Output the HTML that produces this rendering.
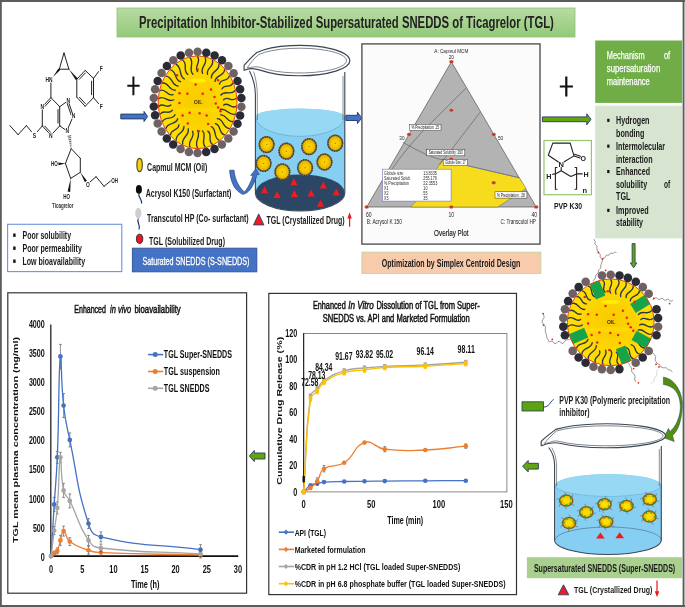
<!DOCTYPE html>
<html lang="en"><head><meta charset="utf-8"><title>Precipitation Inhibitor-Stabilized Supersaturated SNEDDS of Ticagrelor (TGL)</title>
<style>
html,body{margin:0;padding:0;background:#fff;}
svg{display:block;font-family:"Liberation Sans", sans-serif;}
text{white-space:pre;}
</style></head><body>
<svg width="685" height="607" viewBox="0 0 685 607">
<defs>
<linearGradient id="gTitle" x1="0" y1="0" x2="0" y2="1"><stop offset="0" stop-color="#b9dba5"/><stop offset="1" stop-color="#93c978"/></linearGradient>
<radialGradient id="gOil" cx="0.5" cy="0.5" r="0.5"><stop offset="0" stop-color="#f8ca00"/><stop offset="0.5" stop-color="#fcd300"/><stop offset="1" stop-color="#ffe000"/></radialGradient>
<radialGradient id="gSmall" cx="0.5" cy="0.5" r="0.5"><stop offset="0" stop-color="#ffd800"/><stop offset="0.65" stop-color="#f4c400"/><stop offset="1" stop-color="#c99a00"/></radialGradient>
</defs>
<rect x="0" y="0" width="685" height="607" fill="#ffffff"/>
<path d="M0,0 H685 V1.9 H0 Z M0,0 H1.8 V607 H0 Z M0,605 H685 V607 H0 Z M682.6,0 H684.5 V607 H682.6 Z" fill="#5c5c5c"/>
<rect x="117" y="8" width="458" height="29" fill="url(#gTitle)" stroke="#8dc372" stroke-width="0.8"/>
<text x="139.0" y="28.4" font-size="15.6" font-weight="bold" fill="#222" textLength="414.9" lengthAdjust="spacingAndGlyphs" >Precipitation Inhibitor-Stabilized Supersaturated SNEDDS of Ticagrelor (TGL)</text>
<g id="ticagrelor">
<line x1="64.0" y1="52.9" x2="59.3" y2="69.2" stroke="#222" stroke-width="1.0" stroke-linecap="round"/>
<line x1="64.0" y1="52.9" x2="68.9" y2="69.2" stroke="#222" stroke-width="1.0" stroke-linecap="round"/>
<line x1="59.3" y1="69.2" x2="68.9" y2="69.2" stroke="#222" stroke-width="1.0" stroke-linecap="round"/>
<polygon points="52.9,77.0 60.2,69.9 58.4,68.5" fill="#111"/>
<polygon points="68.9,69.2 75.8,80.0 77.8,78.4" fill="#111"/>
<line x1="76.8" y1="79.2" x2="85.2" y2="70.4" stroke="#222" stroke-width="1.0" stroke-linecap="round"/>
<line x1="85.2" y1="70.4" x2="93.5" y2="78.3" stroke="#222" stroke-width="1.0" stroke-linecap="round"/>
<line x1="93.5" y1="78.3" x2="93.5" y2="97.6" stroke="#222" stroke-width="1.0" stroke-linecap="round"/>
<line x1="93.5" y1="97.6" x2="85.2" y2="106.3" stroke="#222" stroke-width="1.0" stroke-linecap="round"/>
<line x1="85.2" y1="106.3" x2="76.8" y2="97.2" stroke="#222" stroke-width="1.0" stroke-linecap="round"/>
<line x1="76.8" y1="97.2" x2="76.8" y2="79.2" stroke="#222" stroke-width="1.0" stroke-linecap="round"/>
<line x1="79.4" y1="79.2" x2="85.3" y2="73.0" stroke="#222" stroke-width="1.0" stroke-linecap="round"/>
<line x1="91.6" y1="81.2" x2="91.6" y2="94.7" stroke="#222" stroke-width="1.0" stroke-linecap="round"/>
<line x1="85.3" y1="103.6" x2="79.5" y2="97.3" stroke="#222" stroke-width="1.0" stroke-linecap="round"/>
<line x1="93.5" y1="78.3" x2="98.6" y2="71.6" stroke="#222" stroke-width="1.0" stroke-linecap="round"/>
<line x1="93.5" y1="97.6" x2="98.6" y2="103.6" stroke="#222" stroke-width="1.0" stroke-linecap="round"/>
<rect x="99.3" y="65.7" width="3.8" height="5.7" fill="#fff"/>
<text x="99.7" y="71.0" font-size="6.8" font-weight="bold" fill="#222" textLength="3.0" lengthAdjust="spacingAndGlyphs" >F</text>
<rect x="99.3" y="103.5" width="3.8" height="5.7" fill="#fff"/>
<text x="99.7" y="108.8" font-size="6.8" font-weight="bold" fill="#222" textLength="3.0" lengthAdjust="spacingAndGlyphs" >F</text>
<line x1="50.9" y1="83.0" x2="50.9" y2="97.6" stroke="#222" stroke-width="1.0" stroke-linecap="round"/>
<line x1="50.9" y1="97.6" x2="42.3" y2="106.7" stroke="#222" stroke-width="1.0" stroke-linecap="round"/>
<line x1="42.3" y1="106.7" x2="42.3" y2="125.9" stroke="#222" stroke-width="1.0" stroke-linecap="round"/>
<line x1="42.3" y1="125.9" x2="50.9" y2="135.2" stroke="#222" stroke-width="1.0" stroke-linecap="round"/>
<line x1="50.9" y1="135.2" x2="59.7" y2="125.9" stroke="#222" stroke-width="1.0" stroke-linecap="round"/>
<line x1="59.7" y1="125.9" x2="59.7" y2="106.7" stroke="#222" stroke-width="1.0" stroke-linecap="round"/>
<line x1="59.7" y1="106.7" x2="50.9" y2="97.6" stroke="#222" stroke-width="1.0" stroke-linecap="round"/>
<line x1="50.8" y1="100.1" x2="44.8" y2="106.5" stroke="#222" stroke-width="1.0" stroke-linecap="round"/>
<line x1="44.8" y1="126.1" x2="50.9" y2="132.7" stroke="#222" stroke-width="1.0" stroke-linecap="round"/>
<line x1="58.0" y1="123.0" x2="58.0" y2="109.6" stroke="#222" stroke-width="1.0" stroke-linecap="round"/>
<line x1="59.7" y1="106.7" x2="68.1" y2="100.7" stroke="#222" stroke-width="1.0" stroke-linecap="round"/>
<line x1="68.1" y1="100.7" x2="73.3" y2="116.0" stroke="#222" stroke-width="1.0" stroke-linecap="round"/>
<line x1="73.3" y1="116.0" x2="66.9" y2="130.9" stroke="#222" stroke-width="1.0" stroke-linecap="round"/>
<line x1="66.9" y1="130.9" x2="59.7" y2="125.9" stroke="#222" stroke-width="1.0" stroke-linecap="round"/>
<line x1="67.0" y1="102.8" x2="71.2" y2="115.0" stroke="#222" stroke-width="1.0" stroke-linecap="round"/>
<line x1="42.3" y1="125.9" x2="37.2" y2="131.8" stroke="#222" stroke-width="1.0" stroke-linecap="round"/>
<line x1="31.6" y1="131.8" x2="26.4" y2="125.6" stroke="#222" stroke-width="1.0" stroke-linecap="round"/>
<line x1="26.4" y1="125.6" x2="18.1" y2="134.7" stroke="#222" stroke-width="1.0" stroke-linecap="round"/>
<line x1="18.1" y1="134.7" x2="9.9" y2="125.6" stroke="#222" stroke-width="1.0" stroke-linecap="round"/>
<rect x="45.1" y="76.4" width="7.8" height="5.7" fill="#fff"/>
<text x="45.5" y="81.7" font-size="6.8" font-weight="bold" fill="#222" textLength="7.0" lengthAdjust="spacingAndGlyphs" >HN</text>
<rect x="40.1" y="103.8" width="4.4" height="5.7" fill="#fff"/>
<text x="40.5" y="109.1" font-size="6.8" font-weight="bold" fill="#222" textLength="3.6" lengthAdjust="spacingAndGlyphs" >N</text>
<rect x="48.7" y="132.5" width="4.4" height="5.7" fill="#fff"/>
<text x="49.1" y="137.8" font-size="6.8" font-weight="bold" fill="#222" textLength="3.6" lengthAdjust="spacingAndGlyphs" >N</text>
<rect x="66.1" y="97.5" width="4.4" height="5.7" fill="#fff"/>
<text x="66.5" y="102.8" font-size="6.8" font-weight="bold" fill="#222" textLength="3.6" lengthAdjust="spacingAndGlyphs" >N</text>
<rect x="71.4" y="113.1" width="4.4" height="5.7" fill="#fff"/>
<text x="71.8" y="118.4" font-size="6.8" font-weight="bold" fill="#222" textLength="3.6" lengthAdjust="spacingAndGlyphs" >N</text>
<rect x="65.0" y="128.1" width="4.4" height="5.7" fill="#fff"/>
<text x="65.4" y="133.4" font-size="6.8" font-weight="bold" fill="#222" textLength="3.6" lengthAdjust="spacingAndGlyphs" >N</text>
<rect x="32.3" y="132.3" width="4.2" height="5.7" fill="#fff"/>
<text x="32.7" y="137.6" font-size="6.8" font-weight="bold" fill="#222" textLength="3.4" lengthAdjust="spacingAndGlyphs" >S</text>
<line x1="71.1" y1="146.9" x2="70.7" y2="146.9" stroke="#111" stroke-width="0.7" stroke-linecap="round"/>
<line x1="71.1" y1="145.0" x2="70.3" y2="145.1" stroke="#111" stroke-width="0.7" stroke-linecap="round"/>
<line x1="71.0" y1="143.2" x2="69.8" y2="143.3" stroke="#111" stroke-width="0.7" stroke-linecap="round"/>
<line x1="71.0" y1="141.3" x2="69.4" y2="141.6" stroke="#111" stroke-width="0.7" stroke-linecap="round"/>
<line x1="70.9" y1="139.5" x2="68.9" y2="139.8" stroke="#111" stroke-width="0.7" stroke-linecap="round"/>
<line x1="70.8" y1="137.6" x2="68.5" y2="138.0" stroke="#111" stroke-width="0.7" stroke-linecap="round"/>
<line x1="70.8" y1="135.8" x2="68.0" y2="136.2" stroke="#111" stroke-width="0.7" stroke-linecap="round"/>
<line x1="71.2" y1="148.7" x2="80.3" y2="158.3" stroke="#222" stroke-width="1.0" stroke-linecap="round"/>
<line x1="80.3" y1="158.3" x2="80.3" y2="172.3" stroke="#222" stroke-width="1.0" stroke-linecap="round"/>
<line x1="80.3" y1="172.3" x2="70.7" y2="178.4" stroke="#222" stroke-width="1.0" stroke-linecap="round"/>
<line x1="70.7" y1="178.4" x2="65.4" y2="163.5" stroke="#222" stroke-width="1.0" stroke-linecap="round"/>
<line x1="65.4" y1="163.5" x2="71.2" y2="148.7" stroke="#222" stroke-width="1.0" stroke-linecap="round"/>
<polygon points="65.4,163.5 58.2,162.6 58.4,165.2" fill="#111"/>
<polygon points="70.7,178.4 67.6,191.6 70.2,192.0" fill="#111"/>
<polygon points="80.3,172.3 84.9,182.3 87.1,180.9" fill="#111"/>
<rect x="50.6" y="161.0" width="7.6" height="5.7" fill="#fff"/>
<text x="51.0" y="166.3" font-size="6.8" font-weight="bold" fill="#222" textLength="6.8" lengthAdjust="spacingAndGlyphs" >HO</text>
<rect x="62.9" y="193.3" width="7.6" height="5.7" fill="#fff"/>
<text x="63.3" y="198.6" font-size="6.8" font-weight="bold" fill="#222" textLength="6.8" lengthAdjust="spacingAndGlyphs" >HO</text>
<rect x="85.5" y="181.4" width="4.6" height="5.7" fill="#fff"/>
<text x="85.9" y="186.7" font-size="6.8" font-weight="bold" fill="#222" textLength="3.8" lengthAdjust="spacingAndGlyphs" >O</text>
<line x1="90.1" y1="181.9" x2="96.1" y2="176.7" stroke="#222" stroke-width="1.0" stroke-linecap="round"/>
<line x1="96.1" y1="176.7" x2="104.0" y2="186.3" stroke="#222" stroke-width="1.0" stroke-linecap="round"/>
<line x1="104.0" y1="186.3" x2="110.6" y2="181.0" stroke="#222" stroke-width="1.0" stroke-linecap="round"/>
<rect x="110.8" y="177.3" width="7.6" height="5.7" fill="#fff"/>
<text x="111.2" y="182.6" font-size="6.8" font-weight="bold" fill="#222" textLength="6.8" lengthAdjust="spacingAndGlyphs" >OH</text>
<text x="52.0" y="208.2" font-size="6.8" font-weight="bold" fill="#333" textLength="21.6" lengthAdjust="spacingAndGlyphs" >Ticagrelor</text>
</g>
<rect x="7.6" y="224.3" width="114.2" height="47.3" fill="#fff" stroke="#6f93dc" stroke-width="1.1"/>
<rect x="13.2" y="233.5" width="2.4" height="3.4" fill="#111"/>
<text x="22.5" y="238.9" font-size="10.3" font-weight="bold" fill="#1a1a1a" textLength="48.6" lengthAdjust="spacingAndGlyphs" >Poor solubility</text>
<rect x="13.2" y="246.5" width="2.4" height="3.4" fill="#111"/>
<text x="22.5" y="251.9" font-size="10.3" font-weight="bold" fill="#1a1a1a" textLength="59.3" lengthAdjust="spacingAndGlyphs" >Poor permeability</text>
<rect x="13.2" y="259.5" width="2.4" height="3.4" fill="#111"/>
<text x="22.5" y="264.9" font-size="10.3" font-weight="bold" fill="#1a1a1a" textLength="62.6" lengthAdjust="spacingAndGlyphs" >Low bioavailability</text>
<g>
<ellipse cx="197.6" cy="102.3" rx="39.4" ry="46.4" fill="url(#gOil)"/>
<ellipse cx="197.6" cy="80.5" rx="8.7" ry="2.1" fill="#fff200" opacity="0.9"/>
<ellipse cx="197.6" cy="110.2" rx="21.7" ry="2.8" fill="#ffe000" opacity="0.55"/>
<path d="M197.6,56.8 C201.5,62.0 193.7,66.4 197.6,71.5" fill="none" stroke="#2f3348" stroke-width="1.35" stroke-linecap="round"/>
<path d="M205.2,57.7 C208.1,64.0 199.7,67.1 202.6,73.3" fill="none" stroke="#2f3348" stroke-width="1.35" stroke-linecap="round"/>
<path d="M212.5,60.4 C214.4,66.8 205.7,68.0 207.5,74.4" fill="none" stroke="#2f3348" stroke-width="1.35" stroke-linecap="round"/>
<path d="M219.0,64.5 C219.6,71.3 210.8,71.0 211.4,77.9" fill="none" stroke="#2f3348" stroke-width="1.35" stroke-linecap="round"/>
<path d="M224.6,69.8 C224.0,76.6 215.6,74.6 215.0,81.4" fill="none" stroke="#2f3348" stroke-width="1.35" stroke-linecap="round"/>
<path d="M229.2,76.2 C228.0,82.2 220.6,78.2 219.5,84.2" fill="none" stroke="#2f3348" stroke-width="1.35" stroke-linecap="round"/>
<path d="M232.6,83.2 C230.6,88.7 224.1,83.4 222.0,88.9" fill="none" stroke="#2f3348" stroke-width="1.35" stroke-linecap="round"/>
<path d="M234.9,90.6 C231.0,95.9 224.8,89.7 220.9,95.0" fill="none" stroke="#2f3348" stroke-width="1.35" stroke-linecap="round"/>
<path d="M236.1,98.4 C232.0,102.7 227.6,95.3 223.6,99.7" fill="none" stroke="#2f3348" stroke-width="1.35" stroke-linecap="round"/>
<path d="M236.1,106.3 C231.4,109.7 228.3,101.5 223.7,105.0" fill="none" stroke="#2f3348" stroke-width="1.35" stroke-linecap="round"/>
<path d="M234.9,114.1 C228.8,116.2 226.4,107.3 220.3,109.5" fill="none" stroke="#2f3348" stroke-width="1.35" stroke-linecap="round"/>
<path d="M232.6,121.5 C226.7,122.7 226.4,113.7 220.6,114.9" fill="none" stroke="#2f3348" stroke-width="1.35" stroke-linecap="round"/>
<path d="M229.2,128.5 C222.8,128.2 223.7,118.9 217.3,118.7" fill="none" stroke="#2f3348" stroke-width="1.35" stroke-linecap="round"/>
<path d="M224.6,134.8 C218.5,133.7 221.3,124.8 215.3,123.7" fill="none" stroke="#2f3348" stroke-width="1.35" stroke-linecap="round"/>
<path d="M219.0,140.2 C213.0,137.6 217.2,129.2 211.3,126.6" fill="none" stroke="#2f3348" stroke-width="1.35" stroke-linecap="round"/>
<path d="M212.4,144.3 C207.2,141.2 213.0,134.2 207.8,131.1" fill="none" stroke="#2f3348" stroke-width="1.35" stroke-linecap="round"/>
<path d="M205.2,146.9 C200.4,142.1 207.2,135.8 202.5,130.9" fill="none" stroke="#2f3348" stroke-width="1.35" stroke-linecap="round"/>
<path d="M197.5,147.8 C193.6,141.7 201.4,136.6 197.6,130.5" fill="none" stroke="#2f3348" stroke-width="1.35" stroke-linecap="round"/>
<path d="M190.0,146.9 C187.1,140.7 195.5,137.6 192.6,131.4" fill="none" stroke="#2f3348" stroke-width="1.35" stroke-linecap="round"/>
<path d="M182.7,144.2 C181.0,137.3 189.9,135.7 188.2,128.8" fill="none" stroke="#2f3348" stroke-width="1.35" stroke-linecap="round"/>
<path d="M176.2,140.1 C175.6,133.2 184.5,133.4 183.9,126.5" fill="none" stroke="#2f3348" stroke-width="1.35" stroke-linecap="round"/>
<path d="M170.6,134.8 C170.7,128.6 178.8,131.0 178.9,124.8" fill="none" stroke="#2f3348" stroke-width="1.35" stroke-linecap="round"/>
<path d="M166.0,128.4 C167.8,121.9 175.8,125.4 177.7,118.8" fill="none" stroke="#2f3348" stroke-width="1.35" stroke-linecap="round"/>
<path d="M162.6,121.4 C165.3,115.5 172.3,120.6 175.0,114.7" fill="none" stroke="#2f3348" stroke-width="1.35" stroke-linecap="round"/>
<path d="M160.3,114.0 C163.6,108.9 169.2,115.3 172.5,110.2" fill="none" stroke="#2f3348" stroke-width="1.35" stroke-linecap="round"/>
<path d="M159.1,106.2 C162.9,101.9 167.1,109.3 170.8,105.0" fill="none" stroke="#2f3348" stroke-width="1.35" stroke-linecap="round"/>
<path d="M159.1,98.3 C164.6,95.0 168.3,103.2 173.7,99.8" fill="none" stroke="#2f3348" stroke-width="1.35" stroke-linecap="round"/>
<path d="M160.3,90.5 C165.8,88.2 167.6,96.9 173.1,94.6" fill="none" stroke="#2f3348" stroke-width="1.35" stroke-linecap="round"/>
<path d="M162.6,83.1 C168.7,82.0 169.3,91.2 175.4,90.1" fill="none" stroke="#2f3348" stroke-width="1.35" stroke-linecap="round"/>
<path d="M166.0,76.1 C172.5,76.4 171.6,85.7 178.0,86.0" fill="none" stroke="#2f3348" stroke-width="1.35" stroke-linecap="round"/>
<path d="M170.6,69.8 C176.9,71.2 174.2,80.2 180.5,81.6" fill="none" stroke="#2f3348" stroke-width="1.35" stroke-linecap="round"/>
<path d="M176.2,64.4 C182.3,67.4 178.3,76.0 184.4,79.0" fill="none" stroke="#2f3348" stroke-width="1.35" stroke-linecap="round"/>
<path d="M182.8,60.3 C188.1,63.8 182.4,71.0 187.8,74.4" fill="none" stroke="#2f3348" stroke-width="1.35" stroke-linecap="round"/>
<path d="M190.0,57.7 C194.8,62.8 188.0,69.3 192.9,74.3" fill="none" stroke="#2f3348" stroke-width="1.35" stroke-linecap="round"/>
<ellipse cx="197.6" cy="102.3" rx="39.4" ry="46.4" fill="none" stroke="#e43a1a" stroke-width="0.95"/>
<circle cx="197.6" cy="51.7" r="4.25" fill="#6f6162"/>
<circle cx="206.3" cy="52.7" r="4.25" fill="#2b2b36"/>
<circle cx="214.6" cy="55.6" r="4.25" fill="#2b2b36"/>
<circle cx="222.0" cy="60.2" r="4.25" fill="#2b2b36"/>
<circle cx="228.4" cy="66.1" r="4.25" fill="#6f6162"/>
<circle cx="233.6" cy="73.2" r="4.25" fill="#6f6162"/>
<circle cx="237.5" cy="81.0" r="4.25" fill="#2b2b36"/>
<circle cx="240.1" cy="89.3" r="4.25" fill="#2b2b36"/>
<circle cx="241.4" cy="98.0" r="4.25" fill="#2b2b36"/>
<circle cx="241.4" cy="106.7" r="4.25" fill="#6f6162"/>
<circle cx="240.1" cy="115.4" r="4.25" fill="#2b2b36"/>
<circle cx="237.5" cy="123.7" r="4.25" fill="#2b2b36"/>
<circle cx="233.6" cy="131.5" r="4.25" fill="#6f6162"/>
<circle cx="228.3" cy="138.5" r="4.25" fill="#6f6162"/>
<circle cx="221.9" cy="144.4" r="4.25" fill="#6f6162"/>
<circle cx="214.5" cy="149.0" r="4.25" fill="#2b2b36"/>
<circle cx="206.2" cy="151.9" r="4.25" fill="#2b2b36"/>
<circle cx="197.5" cy="152.9" r="4.25" fill="#6f6162"/>
<circle cx="188.9" cy="151.9" r="4.25" fill="#6f6162"/>
<circle cx="180.6" cy="149.0" r="4.25" fill="#6f6162"/>
<circle cx="173.2" cy="144.4" r="4.25" fill="#2b2b36"/>
<circle cx="166.8" cy="138.5" r="4.25" fill="#2b2b36"/>
<circle cx="161.6" cy="131.4" r="4.25" fill="#6f6162"/>
<circle cx="157.7" cy="123.6" r="4.25" fill="#6f6162"/>
<circle cx="155.1" cy="115.3" r="4.25" fill="#2b2b36"/>
<circle cx="153.8" cy="106.6" r="4.25" fill="#2b2b36"/>
<circle cx="153.8" cy="97.9" r="4.25" fill="#6f6162"/>
<circle cx="155.1" cy="89.2" r="4.25" fill="#6f6162"/>
<circle cx="157.7" cy="80.9" r="4.25" fill="#2b2b36"/>
<circle cx="161.6" cy="73.1" r="4.25" fill="#6f6162"/>
<circle cx="166.9" cy="66.1" r="4.25" fill="#2b2b36"/>
<circle cx="173.3" cy="60.2" r="4.25" fill="#6f6162"/>
<circle cx="180.7" cy="55.6" r="4.25" fill="#2b2b36"/>
<circle cx="189.0" cy="52.7" r="4.25" fill="#6f6162"/>
<circle cx="197.6" cy="69.6" r="1.25" fill="#e8241a"/>
<circle cx="177.1" cy="75.2" r="1.25" fill="#e8241a"/>
<circle cx="218.1" cy="80.3" r="1.25" fill="#e8241a"/>
<circle cx="195.6" cy="84.4" r="1.25" fill="#e8241a"/>
<circle cx="179.5" cy="93.3" r="1.25" fill="#e8241a"/>
<circle cx="187.4" cy="93.7" r="1.25" fill="#e8241a"/>
<circle cx="202.7" cy="93.7" r="1.25" fill="#e8241a"/>
<circle cx="211.0" cy="89.5" r="1.25" fill="#e8241a"/>
<circle cx="214.5" cy="97.0" r="1.25" fill="#e8241a"/>
<circle cx="179.5" cy="103.0" r="1.25" fill="#e8241a"/>
<circle cx="215.7" cy="103.5" r="1.25" fill="#e8241a"/>
<circle cx="218.1" cy="107.6" r="1.25" fill="#e8241a"/>
<circle cx="220.5" cy="111.3" r="1.25" fill="#e8241a"/>
<circle cx="189.7" cy="112.7" r="1.25" fill="#e8241a"/>
<circle cx="199.6" cy="113.2" r="1.25" fill="#e8241a"/>
<circle cx="206.7" cy="115.5" r="1.25" fill="#e8241a"/>
<circle cx="182.6" cy="115.5" r="1.25" fill="#e8241a"/>
<circle cx="187.8" cy="123.4" r="1.25" fill="#e8241a"/>
<circle cx="208.2" cy="123.9" r="1.25" fill="#e8241a"/>
<circle cx="198.8" cy="131.3" r="1.25" fill="#e8241a"/>
<text x="193.8" y="104.1" font-size="5.8" font-weight="bold" fill="#4a3600" textLength="8.6" lengthAdjust="spacingAndGlyphs" >OIL</text>
</g>
<path d="M127.3,85.8 H139.6 M133.4,76.5 V95.3" stroke="#111" stroke-width="2" fill="none"/>
<polygon points="120.8,114.1 144.0,114.1 144.0,111.4 147.6,116.5 144.0,121.6 144.0,118.9 120.8,118.9" fill="#4472c4" stroke="#1f3864" stroke-width="0.9"/>
<ellipse cx="139.6" cy="165" rx="2.7" ry="6.6" fill="#f3cf1c" stroke="#55501f" stroke-width="1.2"/>
<text x="147.1" y="171.2" font-size="10.2" font-weight="bold" fill="#1a1a1a" textLength="60.3" lengthAdjust="spacingAndGlyphs" >Capmul MCM (Oil)</text>
<path d="M139,193.5 C137.5,197 142.5,199 141.6,203.6" fill="none" stroke="#1f3a73" stroke-width="1.2"/>
<ellipse cx="138.9" cy="189.4" rx="3.0" ry="4.4" fill="#0b0b0b"/>
<text x="145.8" y="197.2" font-size="10.2" font-weight="bold" fill="#1a1a1a" textLength="85.6" lengthAdjust="spacingAndGlyphs" >Acrysol K150 (Surfactant)</text>
<path d="M138.4,218.5 C136,222 141,225 138.9,229.5" fill="none" stroke="#1f3a73" stroke-width="1.2"/>
<ellipse cx="138.3" cy="213.2" rx="3.1" ry="5.4" fill="#cfcfcf"/>
<text x="147.0" y="222.2" font-size="10.2" font-weight="bold" fill="#1a1a1a" textLength="101.7" lengthAdjust="spacingAndGlyphs" >Transcutol HP (Co- surfactant)</text>
<ellipse cx="139.6" cy="238.8" rx="3.2" ry="4.6" fill="#f01414" stroke="#3a2a4a" stroke-width="1.0"/>
<text x="149.0" y="244.5" font-size="10.2" font-weight="bold" fill="#1a1a1a" textLength="76.0" lengthAdjust="spacingAndGlyphs" >TGL (Solubilized Drug)</text>
<rect x="132.4" y="248.2" width="124.4" height="23.6" fill="#4472c4" stroke="#35589c" stroke-width="1"/>
<text x="142.4" y="264.5" font-size="10.8" font-weight="normal" fill="#fff" textLength="107.1" lengthAdjust="spacingAndGlyphs" stroke="#fff" stroke-width="0.3">Saturated SNEDDS (S-SNEDDS)</text>
<g id="beaker1">
<path d="M255.4,117.5 L255.4,193 A44.7,18 0 0 0 344.8,193 L344.8,116 A44.7,8 0 0 0 255.4,117.5 Z" fill="#86cff2"/>
<path d="M255.4,117.5 A44.7,8.2 0 0 1 344.8,116 A44.7,20 0 0 1 255.4,117.5 Z" fill="#97d8f5"/>
<path d="M255.4,117.5 A44.7,19.6 0 0 0 344.8,116" fill="none" stroke="#5a9cc0" stroke-width="0.6"/>
<ellipse cx="300.1" cy="192.6" rx="44.6" ry="18.2" fill="#2c4666"/>
<ellipse cx="266.6" cy="144.6" rx="7.3" ry="7.9" fill="url(#gSmall)" stroke="#6f6438" stroke-width="1.5"/>
<ellipse cx="266.6" cy="144.6" rx="7.3" ry="7.9" fill="none" stroke="#3d3a3a" stroke-width="1.5" stroke-dasharray="1.1 1.3"/>
<ellipse cx="266.6" cy="144.6" rx="4.5" ry="4.9" fill="none" stroke="#d9a800" stroke-width="0.6" stroke-dasharray="0.8 0.8"/>
<circle cx="266.6" cy="144.6" r="0.7" fill="#a67c00"/>
<ellipse cx="286.4" cy="151.2" rx="7.3" ry="7.9" fill="url(#gSmall)" stroke="#6f6438" stroke-width="1.5"/>
<ellipse cx="286.4" cy="151.2" rx="7.3" ry="7.9" fill="none" stroke="#3d3a3a" stroke-width="1.5" stroke-dasharray="1.1 1.3"/>
<ellipse cx="286.4" cy="151.2" rx="4.5" ry="4.9" fill="none" stroke="#d9a800" stroke-width="0.6" stroke-dasharray="0.8 0.8"/>
<circle cx="286.4" cy="151.2" r="0.7" fill="#a67c00"/>
<ellipse cx="309.1" cy="146.6" rx="7.3" ry="7.9" fill="url(#gSmall)" stroke="#6f6438" stroke-width="1.5"/>
<ellipse cx="309.1" cy="146.6" rx="7.3" ry="7.9" fill="none" stroke="#3d3a3a" stroke-width="1.5" stroke-dasharray="1.1 1.3"/>
<ellipse cx="309.1" cy="146.6" rx="4.5" ry="4.9" fill="none" stroke="#d9a800" stroke-width="0.6" stroke-dasharray="0.8 0.8"/>
<circle cx="309.1" cy="146.6" r="0.7" fill="#a67c00"/>
<ellipse cx="335.2" cy="143.2" rx="7.3" ry="7.9" fill="url(#gSmall)" stroke="#6f6438" stroke-width="1.5"/>
<ellipse cx="335.2" cy="143.2" rx="7.3" ry="7.9" fill="none" stroke="#3d3a3a" stroke-width="1.5" stroke-dasharray="1.1 1.3"/>
<ellipse cx="335.2" cy="143.2" rx="4.5" ry="4.9" fill="none" stroke="#d9a800" stroke-width="0.6" stroke-dasharray="0.8 0.8"/>
<circle cx="335.2" cy="143.2" r="0.7" fill="#a67c00"/>
<ellipse cx="263.6" cy="163.4" rx="7.3" ry="7.9" fill="url(#gSmall)" stroke="#6f6438" stroke-width="1.5"/>
<ellipse cx="263.6" cy="163.4" rx="7.3" ry="7.9" fill="none" stroke="#3d3a3a" stroke-width="1.5" stroke-dasharray="1.1 1.3"/>
<ellipse cx="263.6" cy="163.4" rx="4.5" ry="4.9" fill="none" stroke="#d9a800" stroke-width="0.6" stroke-dasharray="0.8 0.8"/>
<circle cx="263.6" cy="163.4" r="0.7" fill="#a67c00"/>
<ellipse cx="282.4" cy="171.9" rx="7.3" ry="7.9" fill="url(#gSmall)" stroke="#6f6438" stroke-width="1.5"/>
<ellipse cx="282.4" cy="171.9" rx="7.3" ry="7.9" fill="none" stroke="#3d3a3a" stroke-width="1.5" stroke-dasharray="1.1 1.3"/>
<ellipse cx="282.4" cy="171.9" rx="4.5" ry="4.9" fill="none" stroke="#d9a800" stroke-width="0.6" stroke-dasharray="0.8 0.8"/>
<circle cx="282.4" cy="171.9" r="0.7" fill="#a67c00"/>
<ellipse cx="305.1" cy="167.7" rx="7.3" ry="7.9" fill="url(#gSmall)" stroke="#6f6438" stroke-width="1.5"/>
<ellipse cx="305.1" cy="167.7" rx="7.3" ry="7.9" fill="none" stroke="#3d3a3a" stroke-width="1.5" stroke-dasharray="1.1 1.3"/>
<ellipse cx="305.1" cy="167.7" rx="4.5" ry="4.9" fill="none" stroke="#d9a800" stroke-width="0.6" stroke-dasharray="0.8 0.8"/>
<circle cx="305.1" cy="167.7" r="0.7" fill="#a67c00"/>
<ellipse cx="324.5" cy="162.0" rx="7.3" ry="7.9" fill="url(#gSmall)" stroke="#6f6438" stroke-width="1.5"/>
<ellipse cx="324.5" cy="162.0" rx="7.3" ry="7.9" fill="none" stroke="#3d3a3a" stroke-width="1.5" stroke-dasharray="1.1 1.3"/>
<ellipse cx="324.5" cy="162.0" rx="4.5" ry="4.9" fill="none" stroke="#d9a800" stroke-width="0.6" stroke-dasharray="0.8 0.8"/>
<circle cx="324.5" cy="162.0" r="0.7" fill="#a67c00"/>
<polygon points="293.9,178.3 297.6,185.3 290.2,185.3" fill="#ee1c1c"/>
<polygon points="323.3,181.6 327.0,188.6 319.6,188.6" fill="#ee1c1c"/>
<polygon points="264.6,186.2 268.3,193.2 260.9,193.2" fill="#ee1c1c"/>
<polygon points="277.1,190.9 280.8,197.9 273.4,197.9" fill="#ee1c1c"/>
<polygon points="294.3,190.1 298.0,197.1 290.6,197.1" fill="#ee1c1c"/>
<polygon points="311.1,189.5 314.8,196.5 307.4,196.5" fill="#ee1c1c"/>
<polygon points="336.3,188.5 340.0,195.5 332.6,195.5" fill="#ee1c1c"/>
<polygon points="320.5,199.8 324.2,206.8 316.8,206.8" fill="#ee1c1c"/>
<path d="M249.5,71 C252,76 255.4,84 255.4,95 L255.4,193 A44.7,18 0 0 0 344.8,193 L344.8,72" fill="none" stroke="#3a4652" stroke-width="1.1"/>
<path d="M253.5,71.5 C255.5,77 257.3,86 257.3,95 L257.3,120" fill="none" stroke="#3a4652" stroke-width="0.6"/>
<path d="M343,76 L343,120" fill="none" stroke="#3a4652" stroke-width="0.6"/>
<path d="M244.1,65.4 C247.1,61.9 252.9,55.7 256.9,52.5 A50.3,15.2 0 1 1 261.1,70.4 C254.1,68.6 250.1,67.6 244.1,70.2 Z" fill="#fff" stroke="#3a4652" stroke-width="1.15" stroke-linejoin="round"/>
<path d="M247.3,67.6 C250.1,63.8 254.6,57.6 258.6,54.6 A46.9,12.4 0 1 1 260.7,67.5 C253.7,65.7 252.1,68.0 247.3,67.6 Z" fill="#fff" stroke="#3a4652" stroke-width="0.65" stroke-linejoin="round"/>
</g>
<polygon points="345.9,115.3 357.4,115.3 357.4,112.2 361.8,117.9 357.4,123.6 357.4,120.5 345.9,120.5" fill="#4472c4" stroke="#1f3864" stroke-width="0.9"/>
<path d="M229.7,170.2 C230,178 233,187 237.6,190.8 C240,193 242,194.3 243.4,194.3 C246.5,193.6 250.5,190.5 253.2,184.6 C255,181 256.4,177.5 256.9,174.4 L259.3,174.6 L255.9,168.7 L250.7,175.4 L253,175.1 C252.2,178.4 251,181.4 249.6,184.1 C247.8,187.8 246,190.6 244.3,192.0 C242.5,190.5 240,187.5 238.1,184.1 C236,180 234.3,175 234,170.2 Z" fill="#4472c4" stroke="#2a4580" stroke-width="0.7" stroke-linejoin="round"/>
<polygon points="258.7,213.9 263.9,224.9 253.5,224.9" fill="#ee1c1c" stroke="#2a3f7a" stroke-width="0.9" stroke-linejoin="miter"/>
<text x="266.5" y="223.9" font-size="10.1" font-weight="bold" fill="#1a1a1a" textLength="78.2" lengthAdjust="spacingAndGlyphs" >TGL (Crystallized Drug)</text>
<path d="M349.6,226.7 V217" stroke="#f01414" stroke-width="1.2" fill="none"/><polygon points="349.6,212.2 351.8,218.4 347.4,218.4" fill="#f01414"/>
<rect x="361.9" y="43.9" width="178.1" height="200.2" fill="#fbfbfb" stroke="#5e5e5e" stroke-width="1.5"/>
<polygon points="451.4,61.8 536.2,207.0 366.7,207.0" fill="#b3b3b3" stroke="#555" stroke-width="0.7"/>
<polygon points="441,161.8 444,159.6 468,165.8 519.3,177.8 526.2,188.6 497.7,207 410.8,207 416.7,200.8 437,168.4" fill="#f7dc1d" stroke="#6b6b55" stroke-width="0.5"/>
<g fill="none" stroke="#444" stroke-width="0.5">
<path d="M466.1,88.1 L424,129.8 Q405,150 392.2,168.8 L382,183"/>
<path d="M480.2,112.2 L452.1,148.8 L439.4,165.1"/>
<path d="M403.2,142.5 Q414,149 425.8,154.3 T443.9,159.7 L452,160 L468,165.8"/>
</g>
<path d="M468,165.8 L519.3,177.8" fill="none" stroke="#5b6bb0" stroke-width="0.7"/>
<ellipse cx="451.4" cy="61.8" rx="2.2" ry="1.7" fill="#c0391b" stroke="#e9d9d0" stroke-width="0.3"/>
<ellipse cx="451.3" cy="110.2" rx="2.2" ry="1.7" fill="#c0391b" stroke="#e9d9d0" stroke-width="0.3"/>
<ellipse cx="409.1" cy="134.5" rx="2.2" ry="1.7" fill="#c0391b" stroke="#e9d9d0" stroke-width="0.3"/>
<ellipse cx="493.7" cy="134.5" rx="2.2" ry="1.7" fill="#c0391b" stroke="#e9d9d0" stroke-width="0.3"/>
<ellipse cx="451.3" cy="158.9" rx="2.2" ry="1.7" fill="#c0391b" stroke="#e9d9d0" stroke-width="0.3"/>
<ellipse cx="493.7" cy="182.7" rx="2.2" ry="1.7" fill="#c0391b" stroke="#e9d9d0" stroke-width="0.3"/>
<ellipse cx="366.7" cy="207.0" rx="2.2" ry="1.7" fill="#c0391b" stroke="#e9d9d0" stroke-width="0.3"/>
<ellipse cx="451.3" cy="207.0" rx="2.2" ry="1.7" fill="#c0391b" stroke="#e9d9d0" stroke-width="0.3"/>
<ellipse cx="536.2" cy="207.0" rx="2.2" ry="1.7" fill="#c0391b" stroke="#e9d9d0" stroke-width="0.3"/>
<rect x="409.4" y="124.3" width="31.6" height="6.3" fill="#fff" stroke="#333" stroke-width="0.5"/>
<text x="411.4" y="129.1" font-size="4.6" font-weight="normal" fill="#111" textLength="27.6" lengthAdjust="spacingAndGlyphs" >% Precipitation: 15</text>
<rect x="426.7" y="149.5" width="38.1" height="6.3" fill="#fff" stroke="#333" stroke-width="0.5"/>
<text x="428.7" y="154.3" font-size="4.6" font-weight="normal" fill="#111" textLength="34.1" lengthAdjust="spacingAndGlyphs" >Saturated Solubility: 260</text>
<rect x="443.2" y="159.4" width="24.3" height="6.3" fill="#fff" stroke="#333" stroke-width="0.5"/>
<text x="445.2" y="164.2" font-size="4.6" font-weight="normal" fill="#111" textLength="20.3" lengthAdjust="spacingAndGlyphs" >Globule Size: 17</text>
<rect x="495" y="191.8" width="31.9" height="6.3" fill="#fff" stroke="#333" stroke-width="0.5"/>
<text x="497.0" y="196.6" font-size="4.6" font-weight="normal" fill="#111" textLength="27.9" lengthAdjust="spacingAndGlyphs" >% Precipitation : 28</text>
<rect x="382.5" y="169.2" width="68.6" height="31.9" fill="#fff" stroke="#7a6ec4" stroke-width="0.6"/>
<text x="384.0" y="174.6" font-size="5.0" font-weight="normal" fill="#2a2a2a" textLength="20.0" lengthAdjust="spacingAndGlyphs" >Globule size:</text>
<text x="423.3" y="174.6" font-size="5.0" font-weight="normal" fill="#2a2a2a" textLength="13.6" lengthAdjust="spacingAndGlyphs" >13.8335</text>
<text x="384.0" y="179.7" font-size="5.0" font-weight="normal" fill="#2a2a2a" textLength="26.3" lengthAdjust="spacingAndGlyphs" >Saturated Solub</text>
<text x="423.3" y="179.7" font-size="5.0" font-weight="normal" fill="#2a2a2a" textLength="13.6" lengthAdjust="spacingAndGlyphs" >255.176</text>
<text x="384.0" y="184.8" font-size="5.0" font-weight="normal" fill="#2a2a2a" textLength="24.8" lengthAdjust="spacingAndGlyphs" >% Precipitation</text>
<text x="423.3" y="184.8" font-size="5.0" font-weight="normal" fill="#2a2a2a" textLength="14.0" lengthAdjust="spacingAndGlyphs" >22.3553</text>
<text x="384.0" y="190.0" font-size="5.0" font-weight="normal" fill="#2a2a2a" textLength="4.5" lengthAdjust="spacingAndGlyphs" >X1</text>
<text x="423.3" y="190.0" font-size="5.0" font-weight="normal" fill="#2a2a2a" textLength="4.2" lengthAdjust="spacingAndGlyphs" >10</text>
<text x="384.0" y="195.1" font-size="5.0" font-weight="normal" fill="#2a2a2a" textLength="4.5" lengthAdjust="spacingAndGlyphs" >X2</text>
<text x="423.3" y="195.1" font-size="5.0" font-weight="normal" fill="#2a2a2a" textLength="4.2" lengthAdjust="spacingAndGlyphs" >55</text>
<text x="384.0" y="200.2" font-size="5.0" font-weight="normal" fill="#2a2a2a" textLength="4.5" lengthAdjust="spacingAndGlyphs" >X3</text>
<text x="423.3" y="200.2" font-size="5.0" font-weight="normal" fill="#2a2a2a" textLength="4.2" lengthAdjust="spacingAndGlyphs" >35</text>
<text x="434.3" y="53.4" font-size="5.6" font-weight="normal" fill="#222" textLength="34.0" lengthAdjust="spacingAndGlyphs" >A: Capmul MCM</text>
<text x="448.7" y="59.3" font-size="6.0" font-weight="normal" fill="#222" textLength="5.2" lengthAdjust="spacingAndGlyphs" >20</text>
<text x="399.3" y="139.9" font-size="6.0" font-weight="normal" fill="#222" textLength="5.2" lengthAdjust="spacingAndGlyphs" >30</text>
<text x="498.0" y="139.9" font-size="6.0" font-weight="normal" fill="#222" textLength="5.2" lengthAdjust="spacingAndGlyphs" >50</text>
<text x="365.9" y="216.8" font-size="6.6" font-weight="normal" fill="#222" textLength="5.6" lengthAdjust="spacingAndGlyphs" >60</text>
<text x="448.5" y="216.8" font-size="6.6" font-weight="normal" fill="#222" textLength="5.6" lengthAdjust="spacingAndGlyphs" >10</text>
<text x="531.4" y="216.8" font-size="6.6" font-weight="normal" fill="#222" textLength="5.6" lengthAdjust="spacingAndGlyphs" >40</text>
<text x="366.8" y="224.1" font-size="6.4" font-weight="normal" fill="#222" textLength="35.1" lengthAdjust="spacingAndGlyphs" >B: Acrysol K 150</text>
<text x="500.6" y="224.1" font-size="6.4" font-weight="normal" fill="#222" textLength="35.4" lengthAdjust="spacingAndGlyphs" >C: Transcutol HP</text>
<text x="434.1" y="236.1" font-size="9.4" font-weight="normal" fill="#222" textLength="34.4" lengthAdjust="spacingAndGlyphs" stroke="#222" stroke-width="0.2">Overlay Plot</text>
<rect x="361.9" y="252.1" width="179" height="21.3" fill="#f8cbad" stroke="#b5d6a0" stroke-width="0.8"/>
<text x="381.8" y="266.5" font-size="10.7" font-weight="bold" fill="#1a1a1a" textLength="138.5" lengthAdjust="spacingAndGlyphs" >Optimization by Simplex Centroid Design</text>
<path d="M559.8,86.5 H572.9 M566.3,76.6 V96.6" stroke="#111" stroke-width="2.2" fill="none"/>
<polygon points="542.4,116.9 586.8,116.9 586.8,113.8 591.0,119.3 586.8,124.8 586.8,121.7 542.4,121.7" fill="#61a60e" stroke="#27395f" stroke-width="0.9"/>
<rect x="595.2" y="40.5" width="86.9" height="62.4" fill="#70ad47"/>
<text x="606.8" y="59.4" font-size="10.3" font-weight="normal" fill="#fff" textLength="37.8" lengthAdjust="spacingAndGlyphs" stroke="#fff" stroke-width="0.25">Mechanism</text>
<text x="663.9" y="59.4" font-size="10.3" font-weight="normal" fill="#fff" textLength="6.2" lengthAdjust="spacingAndGlyphs" stroke="#fff" stroke-width="0.25">of</text>
<text x="606.8" y="72.1" font-size="10.3" font-weight="normal" fill="#fff" textLength="53.4" lengthAdjust="spacingAndGlyphs" stroke="#fff" stroke-width="0.25">supersaturation</text>
<text x="606.8" y="84.8" font-size="10.3" font-weight="normal" fill="#fff" textLength="43.0" lengthAdjust="spacingAndGlyphs" stroke="#fff" stroke-width="0.25">maintenance</text>
<rect x="595.2" y="105.7" width="86.9" height="132.7" fill="#d7e4d0"/>
<rect x="607.2" y="118.8" width="2.3" height="3.1" fill="#111"/>
<text x="616.1" y="123.8" font-size="10.3" font-weight="bold" fill="#1a1a1a" textLength="33.4" lengthAdjust="spacingAndGlyphs" >Hydrogen</text>
<text x="616.1" y="136.5" font-size="10.3" font-weight="bold" fill="#1a1a1a" textLength="28.2" lengthAdjust="spacingAndGlyphs" >bonding</text>
<rect x="607.2" y="144.6" width="2.3" height="3.1" fill="#111"/>
<text x="616.1" y="149.6" font-size="10.3" font-weight="bold" fill="#1a1a1a" textLength="49.0" lengthAdjust="spacingAndGlyphs" >Intermolecular</text>
<text x="616.1" y="162.6" font-size="10.3" font-weight="bold" fill="#1a1a1a" textLength="36.4" lengthAdjust="spacingAndGlyphs" >interaction</text>
<rect x="607.2" y="170.0" width="2.3" height="3.1" fill="#111"/>
<text x="616.1" y="175.0" font-size="10.3" font-weight="bold" fill="#1a1a1a" textLength="33.9" lengthAdjust="spacingAndGlyphs" >Enhanced</text>
<text x="616.1" y="187.5" font-size="10.3" font-weight="bold" fill="#1a1a1a" textLength="31.0" lengthAdjust="spacingAndGlyphs" >solubility</text>
<text x="616.1" y="200.2" font-size="10.3" font-weight="bold" fill="#1a1a1a" textLength="14.4" lengthAdjust="spacingAndGlyphs" >TGL</text>
<rect x="607.2" y="208.8" width="2.3" height="3.1" fill="#111"/>
<text x="616.1" y="213.8" font-size="10.3" font-weight="bold" fill="#1a1a1a" textLength="32.6" lengthAdjust="spacingAndGlyphs" >Improved</text>
<text x="616.1" y="226.4" font-size="10.3" font-weight="bold" fill="#1a1a1a" textLength="27.0" lengthAdjust="spacingAndGlyphs" >stability</text>
<text x="663.9" y="187.5" font-size="10.3" font-weight="bold" fill="#1a1a1a" textLength="6.2" lengthAdjust="spacingAndGlyphs" >of</text>
<rect x="544.0" y="140.5" width="47.4" height="54.2" fill="#fff" stroke="#93c66f" stroke-width="1.2"/>
<g fill="none" stroke="#222" stroke-width="1.1" stroke-linecap="round" stroke-linejoin="round">
<path d="M558.4,162.0 L548.3,155.3 L552.8,143.1 L570.2,143.1 L574,155.9 L564.2,161.8"/>
<path d="M574,155.9 L580,158.0 M574.6,154.2 L580.4,156.3"/>
<path d="M561.2,167.4 V170.7 M552.4,174.2 L555.4,173.9 L561.2,170.7 L570.8,176.5 L576.6,173.9 L582.2,173.9"/>
<path d="M557.0,167.5 H555.4 V189.3 H557.0 M575.0,167.5 H576.6 V189.3 H575.0"/>
</g>
<text x="558.5" y="166.8" font-size="7.6" font-weight="bold" fill="#222" textLength="5.4" lengthAdjust="spacingAndGlyphs" >N</text>
<text x="580.4" y="161.1" font-size="7.6" font-weight="bold" fill="#222" textLength="5.5" lengthAdjust="spacingAndGlyphs" >O</text>
<text x="546.3" y="178.5" font-size="7.8" font-weight="bold" fill="#222" textLength="5.2" lengthAdjust="spacingAndGlyphs" >H</text>
<text x="583.4" y="177.0" font-size="7.8" font-weight="bold" fill="#222" textLength="5.2" lengthAdjust="spacingAndGlyphs" >H</text>
<text x="582.4" y="193.1" font-size="8.0" font-weight="bold" fill="#222" textLength="4.6" lengthAdjust="spacingAndGlyphs" >n</text>
<text x="553.9" y="208.9" font-size="9.3" font-weight="bold" fill="#1a1a1a" textLength="28.2" lengthAdjust="spacingAndGlyphs" >PVP K30</text>
<polygon points="632.1,243.6 635.1,243.6 635.1,263.0 636.9,263.0 633.6,267.8 630.3,263.0 632.1,263.0" fill="#61a60e" stroke="#27395f" stroke-width="0.8"/>
<path d="M593.7,239.1 L595.3,241.5 L594.8,244.0 L597.0,246.0 L596.8,249.0 L598.4,252.5 L600.3,254.5 L600.0,257.0 L602.5,258.9 L602.0,262.0 L600.7,265.4 L600.9,268.0 L598.5,270.0 L598.2,273.0 L596.0,275.0 L595.4,278.0 L593.1,281.1" fill="none" stroke="#4a4a4a" stroke-width="0.55" stroke-linejoin="round"/>
<circle cx="598.4" cy="252.5" r="0.9" fill="#e8241a"/>
<circle cx="602.5" cy="258.9" r="0.9" fill="#e8241a"/>
<circle cx="605.6" cy="270.4" r="0.9" fill="#e8241a"/>
<path d="M602.5,258.9 L605.0,257.5 L606.5,255.0 L609.0,255.2 L610.5,253.0 L613.0,253.6 L614.5,252.0 L616.5,252.5" fill="none" stroke="#4a4a4a" stroke-width="0.55" stroke-linejoin="round"/>
<path d="M652.5,299.5 L656.0,297.5 L659.0,299.8 L662.0,298.0 L665.0,300.5 L668.0,299.0 L671.0,301.5 L673.0,300.0" fill="none" stroke="#4a4a4a" stroke-width="0.55" stroke-linejoin="round"/>
<circle cx="653.8" cy="298.4" r="0.9" fill="#e8241a"/>
<circle cx="669.6" cy="303.6" r="0.9" fill="#e8241a"/>
<path d="M543.1,313.6 L544.3,317.1 L542.8,319.5 L541.9,322.0 L543.8,324.6 L545.6,327.0 L545.2,331.0 L546.2,334.4 L547.2,338.5 L549.3,341.8 L552.3,341.0 L554.0,343.2 L556.0,343.6 L558.0,341.6 L559.8,341.2 L561.4,343.2 L562.8,343.6 L564.6,341.4 L566.5,339.9 L569.6,339.3" fill="none" stroke="#4a4a4a" stroke-width="0.55" stroke-linejoin="round"/>
<circle cx="543.1" cy="313.6" r="0.9" fill="#e8241a"/>
<circle cx="543.5" cy="325.1" r="0.9" fill="#e8241a"/>
<circle cx="552.3" cy="339.3" r="0.9" fill="#e8241a"/>
<path d="M651.1,351.9 L653.5,353.5 L655.7,356.5 L655.2,360.0 L656.9,363.4 L659.5,364.5 L661.0,367.0 L663.8,368.0 L666.0,367.6 L668.4,369.8 L670.5,370.0 L672.4,372.1" fill="none" stroke="#4a4a4a" stroke-width="0.55" stroke-linejoin="round"/>
<circle cx="656.0" cy="364.3" r="0.9" fill="#e8241a"/>
<circle cx="659.0" cy="366.9" r="0.9" fill="#e8241a"/>
<circle cx="640.7" cy="357.7" r="0.9" fill="#e8241a"/>
<path d="M628.6,362.8 L629.6,365.5 L631.5,368.0 L631.8,372.0 L634.0,374.0 L635.0,376.1 L634.6,379.0 L635.6,381.9" fill="none" stroke="#4a4a4a" stroke-width="0.55" stroke-linejoin="round"/>
<circle cx="633.6" cy="368.6" r="0.9" fill="#e8241a"/>
<circle cx="638.4" cy="382.8" r="0.9" fill="#e8241a"/>
<path d="M658,369.2 L656.5,372 L657,375 L654.5,378 L654,381 L650.5,384.2" fill="none" stroke="#c4c4c4" stroke-width="0.6"/>
<g>
<ellipse cx="610.7" cy="322.3" rx="43.4" ry="43.4" fill="url(#gOil)"/>
<ellipse cx="610.7" cy="301.9" rx="9.5" ry="2.0" fill="#fff200" opacity="0.9"/>
<ellipse cx="610.7" cy="329.7" rx="23.9" ry="2.6" fill="#ffe000" opacity="0.55"/>
<path d="M610.7,279.8 C614.6,284.4 606.8,288.4 610.7,293.1" fill="none" stroke="#2f3348" stroke-width="1.35" stroke-linecap="round"/>
<path d="M618.5,280.5 C621.5,285.9 613.1,288.5 616.0,294.0" fill="none" stroke="#2f3348" stroke-width="1.35" stroke-linecap="round"/>
<path d="M626.1,282.6 C627.8,288.9 618.9,290.3 620.7,296.6" fill="none" stroke="#2f3348" stroke-width="1.35" stroke-linecap="round"/>
<path d="M633.1,286.2 C634.0,292.2 625.2,291.5 626.1,297.5" fill="none" stroke="#2f3348" stroke-width="1.35" stroke-linecap="round"/>
<path d="M639.4,290.9 C639.1,297.0 630.6,294.7 630.3,300.9" fill="none" stroke="#2f3348" stroke-width="1.35" stroke-linecap="round"/>
<path d="M651.6,310.7 C648.0,315.8 641.9,309.4 638.4,314.5" fill="none" stroke="#2f3348" stroke-width="1.35" stroke-linecap="round"/>
<path d="M653.1,318.4 C649.1,322.7 644.7,315.3 640.7,319.6" fill="none" stroke="#2f3348" stroke-width="1.35" stroke-linecap="round"/>
<path d="M653.1,326.2 C648.0,329.7 644.7,321.5 639.6,325.0" fill="none" stroke="#2f3348" stroke-width="1.35" stroke-linecap="round"/>
<path d="M651.6,334.0 C645.8,336.4 644.0,327.7 638.2,330.1" fill="none" stroke="#2f3348" stroke-width="1.35" stroke-linecap="round"/>
<path d="M644.6,348.0 C638.2,348.0 639.5,339.2 633.1,339.2" fill="none" stroke="#2f3348" stroke-width="1.35" stroke-linecap="round"/>
<path d="M639.3,353.8 C633.6,353.3 636.9,345.3 631.2,344.8" fill="none" stroke="#2f3348" stroke-width="1.35" stroke-linecap="round"/>
<path d="M633.0,358.5 C627.4,356.7 632.0,349.4 626.3,347.6" fill="none" stroke="#2f3348" stroke-width="1.35" stroke-linecap="round"/>
<path d="M618.5,364.1 C613.8,360.7 620.9,355.7 616.3,352.3" fill="none" stroke="#2f3348" stroke-width="1.35" stroke-linecap="round"/>
<path d="M610.7,364.8 C606.8,359.7 614.6,355.4 610.7,350.3" fill="none" stroke="#2f3348" stroke-width="1.35" stroke-linecap="round"/>
<path d="M602.9,364.1 C600.0,358.5 608.4,355.8 605.5,350.2" fill="none" stroke="#2f3348" stroke-width="1.35" stroke-linecap="round"/>
<path d="M595.3,362.0 C593.2,356.7 601.7,356.2 599.6,350.9" fill="none" stroke="#2f3348" stroke-width="1.35" stroke-linecap="round"/>
<path d="M588.3,358.4 C587.8,351.9 596.8,352.1 596.3,345.6" fill="none" stroke="#2f3348" stroke-width="1.35" stroke-linecap="round"/>
<path d="M582.0,353.7 C582.7,347.2 591.5,349.1 592.2,342.6" fill="none" stroke="#2f3348" stroke-width="1.35" stroke-linecap="round"/>
<path d="M576.7,347.9 C578.3,341.8 586.4,345.5 587.9,339.5" fill="none" stroke="#2f3348" stroke-width="1.35" stroke-linecap="round"/>
<path d="M568.3,326.2 C572.8,321.8 577.7,329.2 582.2,324.9" fill="none" stroke="#2f3348" stroke-width="1.35" stroke-linecap="round"/>
<path d="M568.3,318.4 C573.0,314.9 575.9,323.0 580.6,319.5" fill="none" stroke="#2f3348" stroke-width="1.35" stroke-linecap="round"/>
<path d="M569.8,310.6 C574.8,308.0 576.1,316.5 581.1,313.9" fill="none" stroke="#2f3348" stroke-width="1.35" stroke-linecap="round"/>
<path d="M572.6,303.3 C578.6,302.0 578.8,310.8 584.8,309.4" fill="none" stroke="#2f3348" stroke-width="1.35" stroke-linecap="round"/>
<path d="M576.8,296.6 C582.5,296.1 580.6,304.4 586.3,303.8" fill="none" stroke="#2f3348" stroke-width="1.35" stroke-linecap="round"/>
<path d="M582.1,290.8 C587.9,291.4 584.6,299.4 590.4,300.0" fill="none" stroke="#2f3348" stroke-width="1.35" stroke-linecap="round"/>
<path d="M588.4,286.1 C594.0,287.8 589.3,295.1 595.0,296.8" fill="none" stroke="#2f3348" stroke-width="1.35" stroke-linecap="round"/>
<path d="M602.9,280.5 C607.5,283.8 600.5,288.8 605.1,292.1" fill="none" stroke="#2f3348" stroke-width="1.35" stroke-linecap="round"/>
<rect x="-8.2" y="-5.1" width="16.4" height="10.2" fill="#16a34a" transform="translate(597.6,289.9) rotate(248.0)"/>
<rect x="-8.5" y="-5.3" width="17.0" height="10.6" fill="#16a34a" transform="translate(640.2,303.9) rotate(-32.0)"/>
<rect x="-8.5" y="-5.3" width="17.0" height="10.6" fill="#16a34a" transform="translate(641.5,339.4) rotate(29.0)"/>
<rect x="-8.2" y="-5.1" width="16.4" height="10.2" fill="#16a34a" transform="translate(623.6,355.1) rotate(68.5)"/>
<rect x="-8.2" y="-5.3" width="16.4" height="10.6" fill="#16a34a" transform="translate(578.6,335.9) rotate(157.0)"/>
<ellipse cx="610.7" cy="322.3" rx="43.4" ry="43.4" fill="none" stroke="#e43a1a" stroke-width="0.95"/>
<circle cx="610.7" cy="274.7" r="4.3" fill="#6f6162"/>
<circle cx="619.5" cy="275.5" r="4.3" fill="#2b2b36"/>
<circle cx="627.9" cy="277.9" r="4.3" fill="#2b2b36"/>
<circle cx="635.8" cy="281.8" r="4.3" fill="#2b2b36"/>
<circle cx="642.8" cy="287.1" r="4.3" fill="#6f6162"/>
<circle cx="648.7" cy="293.7" r="4.3" fill="#6f6162"/>
<circle cx="656.5" cy="309.3" r="4.3" fill="#2b2b36"/>
<circle cx="658.1" cy="318.0" r="4.3" fill="#2b2b36"/>
<circle cx="658.1" cy="326.7" r="4.3" fill="#6f6162"/>
<circle cx="656.5" cy="335.3" r="4.3" fill="#2b2b36"/>
<circle cx="648.7" cy="351.0" r="4.3" fill="#6f6162"/>
<circle cx="642.7" cy="357.5" r="4.3" fill="#2b2b36"/>
<circle cx="635.7" cy="362.8" r="4.3" fill="#6f6162"/>
<circle cx="619.4" cy="369.1" r="4.3" fill="#2b2b36"/>
<circle cx="610.7" cy="369.9" r="4.3" fill="#6f6162"/>
<circle cx="601.9" cy="369.1" r="4.3" fill="#6f6162"/>
<circle cx="593.5" cy="366.7" r="4.3" fill="#6f6162"/>
<circle cx="585.6" cy="362.8" r="4.3" fill="#2b2b36"/>
<circle cx="578.6" cy="357.5" r="4.3" fill="#2b2b36"/>
<circle cx="572.7" cy="350.9" r="4.3" fill="#6f6162"/>
<circle cx="564.9" cy="335.3" r="4.3" fill="#2b2b36"/>
<circle cx="563.3" cy="326.6" r="4.3" fill="#2b2b36"/>
<circle cx="563.3" cy="317.9" r="4.3" fill="#6f6162"/>
<circle cx="564.9" cy="309.3" r="4.3" fill="#6f6162"/>
<circle cx="568.1" cy="301.1" r="4.3" fill="#2b2b36"/>
<circle cx="572.7" cy="293.6" r="4.3" fill="#6f6162"/>
<circle cx="578.7" cy="287.1" r="4.3" fill="#2b2b36"/>
<circle cx="585.7" cy="281.8" r="4.3" fill="#6f6162"/>
<circle cx="602.0" cy="275.5" r="4.3" fill="#6f6162"/>
<circle cx="607.7" cy="291.3" r="1.25" fill="#e8241a"/>
<circle cx="584.7" cy="296.9" r="1.25" fill="#e8241a"/>
<circle cx="634.6" cy="301.7" r="1.25" fill="#e8241a"/>
<circle cx="605.5" cy="306.0" r="1.25" fill="#e8241a"/>
<circle cx="588.1" cy="314.3" r="1.25" fill="#e8241a"/>
<circle cx="596.8" cy="314.7" r="1.25" fill="#e8241a"/>
<circle cx="613.7" cy="314.7" r="1.25" fill="#e8241a"/>
<circle cx="622.9" cy="310.8" r="1.25" fill="#e8241a"/>
<circle cx="626.8" cy="317.7" r="1.25" fill="#e8241a"/>
<circle cx="588.1" cy="323.4" r="1.25" fill="#e8241a"/>
<circle cx="628.1" cy="323.8" r="1.25" fill="#e8241a"/>
<circle cx="630.7" cy="327.3" r="1.25" fill="#e8241a"/>
<circle cx="633.3" cy="330.8" r="1.25" fill="#e8241a"/>
<circle cx="599.4" cy="332.5" r="1.25" fill="#e8241a"/>
<circle cx="610.3" cy="332.9" r="1.25" fill="#e8241a"/>
<circle cx="618.1" cy="335.1" r="1.25" fill="#e8241a"/>
<circle cx="591.6" cy="335.1" r="1.25" fill="#e8241a"/>
<circle cx="597.2" cy="342.5" r="1.25" fill="#e8241a"/>
<circle cx="619.8" cy="342.9" r="1.25" fill="#e8241a"/>
<circle cx="609.4" cy="349.9" r="1.25" fill="#e8241a"/>
<text x="606.9" y="324.1" font-size="5.8" font-weight="bold" fill="#4a3600" textLength="8.6" lengthAdjust="spacingAndGlyphs" >OIL</text>
</g>
<path d="M663.4,377.2 C668,377.6 672.5,380.5 675.6,384.6 C680,390.5 682.4,397.5 682.3,405 C682.2,413 680.6,421.5 678.6,426.5 C677,430.6 675,433.4 672.6,435.4 L674.2,441.6 L664.1,437.8 L668.4,428.4 L670.2,431.4 C672.6,429.4 675.4,426 677.2,421.6 C679.4,416.5 680.6,411 680.3,405.6 C680,399.5 678.6,394.5 675.4,390.6 C672.4,387 668,385 663.4,384.5 Z" fill="#4f8f12" stroke="#24405a" stroke-width="0.5" stroke-linejoin="round"/>
<rect x="522" y="401.8" width="21.5" height="9.2" fill="#5ba312" stroke="#27395f" stroke-width="0.8"/>
<path d="M543.5,407.2 C547,407.2 549.5,404.5 551,402 C552,400.6 553,399.8 553.8,399.4" fill="none" stroke="#1f3a73" stroke-width="0.95"/>
<text x="559.2" y="403.9" font-size="10.3" font-weight="bold" fill="#1a1a1a" textLength="110.9" lengthAdjust="spacingAndGlyphs" >PVP K30 (Polymeric precipitation</text>
<text x="559.2" y="416.1" font-size="10.3" font-weight="bold" fill="#1a1a1a" textLength="30.4" lengthAdjust="spacingAndGlyphs" >inhibitor)</text>
<g id="beaker2">
<path d="M555.2,485.5 L555.2,540 A53,14.5 0 0 0 661.2,540 L661.2,485.5 A53,11.5 0 0 0 555.2,485.5 Z" fill="#86cff2"/>
<ellipse cx="608.2" cy="485.5" rx="53" ry="11.5" fill="#97d8f5"/>
<path d="M555.2,485.5 A53,11 0 0 0 661.2,485.5" fill="none" stroke="#5fa8cc" stroke-width="0.6"/>
<path d="M555.2,540 A53,13 0 0 1 661.2,540" fill="none" stroke="#4a6a80" stroke-width="0.6"/>
<path d="M571.4,503.5 Q571.8,506.0 574.4,505.0" fill="none" stroke="#4a5560" stroke-width="0.5"/>
<path d="M566.2,505.8 Q564.1,507.7 566.6,509.1" fill="none" stroke="#4a5560" stroke-width="0.5"/>
<path d="M561.6,504.2 Q558.8,504.1 559.5,506.7" fill="none" stroke="#4a5560" stroke-width="0.5"/>
<path d="M560.0,499.7 Q558.6,497.5 556.7,499.5" fill="none" stroke="#4a5560" stroke-width="0.5"/>
<path d="M565.2,495.4 Q566.9,493.3 564.1,492.3" fill="none" stroke="#4a5560" stroke-width="0.5"/>
<path d="M570.7,497.0 Q573.5,497.0 572.8,494.4" fill="none" stroke="#4a5560" stroke-width="0.5"/>
<ellipse cx="566.2" cy="500.6" rx="6.6" ry="5.5" fill="#f2c200" stroke="#7d621c" stroke-width="1.5"/>
<ellipse cx="566.2" cy="500.6" rx="3.3" ry="2.8" fill="#ffdf00"/>
<circle cx="570.5" cy="503.2" r="0.9" fill="#3aa030"/>
<circle cx="566.6" cy="505.0" r="0.9" fill="#3aa030"/>
<circle cx="561.1" cy="501.7" r="0.9" fill="#3aa030"/>
<circle cx="563.8" cy="496.7" r="0.9" fill="#3aa030"/>
<circle cx="570.8" cy="498.4" r="0.9" fill="#3aa030"/>
<path d="M592.5,512.8 Q594.2,514.8 595.9,512.7" fill="none" stroke="#4a5560" stroke-width="0.5"/>
<path d="M585.9,517.5 Q583.7,519.2 586.1,520.8" fill="none" stroke="#4a5560" stroke-width="0.5"/>
<path d="M580.8,514.9 Q578.2,514.2 578.2,516.8" fill="none" stroke="#4a5560" stroke-width="0.5"/>
<path d="M580.1,511.4 Q578.7,509.3 576.8,511.2" fill="none" stroke="#4a5560" stroke-width="0.5"/>
<path d="M585.2,507.2 Q586.9,505.0 584.1,504.0" fill="none" stroke="#4a5560" stroke-width="0.5"/>
<path d="M591.0,508.8 Q593.7,508.9 593.1,506.3" fill="none" stroke="#4a5560" stroke-width="0.5"/>
<ellipse cx="586.3" cy="512.3" rx="6.6" ry="5.5" fill="#f2c200" stroke="#7d621c" stroke-width="1.5"/>
<ellipse cx="586.3" cy="512.3" rx="3.3" ry="2.8" fill="#ffdf00"/>
<circle cx="590.9" cy="514.5" r="0.9" fill="#3aa030"/>
<circle cx="584.7" cy="516.5" r="0.9" fill="#3aa030"/>
<circle cx="581.8" cy="514.6" r="0.9" fill="#3aa030"/>
<circle cx="582.1" cy="509.6" r="0.9" fill="#3aa030"/>
<circle cx="590.7" cy="509.9" r="0.9" fill="#3aa030"/>
<path d="M609.4,507.5 Q609.6,510.1 612.3,509.2" fill="none" stroke="#4a5560" stroke-width="0.5"/>
<path d="M603.6,509.5 Q601.3,511.1 603.6,512.8" fill="none" stroke="#4a5560" stroke-width="0.5"/>
<path d="M601.2,508.7 Q598.4,509.3 599.8,511.7" fill="none" stroke="#4a5560" stroke-width="0.5"/>
<path d="M598.2,504.0 Q596.5,502.1 594.9,504.2" fill="none" stroke="#4a5560" stroke-width="0.5"/>
<path d="M604.9,499.1 Q607.1,497.4 604.6,495.8" fill="none" stroke="#4a5560" stroke-width="0.5"/>
<path d="M609.9,501.6 Q612.6,502.3 612.5,499.6" fill="none" stroke="#4a5560" stroke-width="0.5"/>
<ellipse cx="604.5" cy="504.3" rx="6.6" ry="5.5" fill="#f2c200" stroke="#7d621c" stroke-width="1.5"/>
<ellipse cx="604.5" cy="504.3" rx="3.3" ry="2.8" fill="#ffdf00"/>
<circle cx="609.0" cy="506.5" r="0.9" fill="#3aa030"/>
<circle cx="604.9" cy="508.7" r="0.9" fill="#3aa030"/>
<circle cx="599.3" cy="504.9" r="0.9" fill="#3aa030"/>
<circle cx="602.2" cy="500.4" r="0.9" fill="#3aa030"/>
<circle cx="608.2" cy="501.2" r="0.9" fill="#3aa030"/>
<path d="M632.7,506.8 Q634.2,508.9 636.0,506.9" fill="none" stroke="#4a5560" stroke-width="0.5"/>
<path d="M627.4,511.1 Q625.6,513.2 628.3,514.2" fill="none" stroke="#4a5560" stroke-width="0.5"/>
<path d="M622.1,509.6 Q619.3,509.6 620.1,512.2" fill="none" stroke="#4a5560" stroke-width="0.5"/>
<path d="M620.8,503.8 Q619.9,501.4 617.6,502.8" fill="none" stroke="#4a5560" stroke-width="0.5"/>
<path d="M626.0,500.7 Q627.9,498.7 625.2,497.5" fill="none" stroke="#4a5560" stroke-width="0.5"/>
<path d="M629.9,501.5 Q632.6,500.9 631.3,498.5" fill="none" stroke="#4a5560" stroke-width="0.5"/>
<ellipse cx="626.5" cy="505.9" rx="6.6" ry="5.5" fill="#f2c200" stroke="#7d621c" stroke-width="1.5"/>
<ellipse cx="626.5" cy="505.9" rx="3.3" ry="2.8" fill="#ffdf00"/>
<circle cx="631.8" cy="505.9" r="0.9" fill="#3aa030"/>
<circle cx="624.7" cy="510.0" r="0.9" fill="#3aa030"/>
<circle cx="621.7" cy="507.7" r="0.9" fill="#3aa030"/>
<circle cx="622.9" cy="502.7" r="0.9" fill="#3aa030"/>
<circle cx="631.2" cy="503.9" r="0.9" fill="#3aa030"/>
<path d="M655.9,500.4 Q657.4,502.4 659.2,500.5" fill="none" stroke="#4a5560" stroke-width="0.5"/>
<path d="M652.4,504.2 Q651.4,506.7 654.3,507.0" fill="none" stroke="#4a5560" stroke-width="0.5"/>
<path d="M645.2,503.1 Q642.4,503.1 643.2,505.7" fill="none" stroke="#4a5560" stroke-width="0.5"/>
<path d="M643.5,498.9 Q641.8,496.9 640.1,499.0" fill="none" stroke="#4a5560" stroke-width="0.5"/>
<path d="M646.8,494.9 Q647.8,492.4 644.9,492.2" fill="none" stroke="#4a5560" stroke-width="0.5"/>
<path d="M654.2,495.9 Q657.0,495.9 656.3,493.3" fill="none" stroke="#4a5560" stroke-width="0.5"/>
<ellipse cx="649.7" cy="499.5" rx="6.6" ry="5.5" fill="#f2c200" stroke="#7d621c" stroke-width="1.5"/>
<ellipse cx="649.7" cy="499.5" rx="3.3" ry="2.8" fill="#ffdf00"/>
<circle cx="653.6" cy="502.4" r="0.9" fill="#3aa030"/>
<circle cx="648.0" cy="503.7" r="0.9" fill="#3aa030"/>
<circle cx="644.4" cy="499.6" r="0.9" fill="#3aa030"/>
<circle cx="646.0" cy="496.3" r="0.9" fill="#3aa030"/>
<circle cx="653.3" cy="496.3" r="0.9" fill="#3aa030"/>
<path d="M574.8,525.3 Q575.6,527.7 578.0,526.3" fill="none" stroke="#4a5560" stroke-width="0.5"/>
<path d="M569.1,528.3 Q567.1,530.2 569.6,531.6" fill="none" stroke="#4a5560" stroke-width="0.5"/>
<path d="M563.6,525.6 Q560.9,524.8 560.9,527.5" fill="none" stroke="#4a5560" stroke-width="0.5"/>
<path d="M564.1,519.9 Q563.9,517.3 561.2,518.2" fill="none" stroke="#4a5560" stroke-width="0.5"/>
<path d="M569.1,517.9 Q571.1,516.0 568.6,514.6" fill="none" stroke="#4a5560" stroke-width="0.5"/>
<path d="M574.9,521.1 Q577.4,522.0 577.7,519.4" fill="none" stroke="#4a5560" stroke-width="0.5"/>
<ellipse cx="569.1" cy="523.1" rx="6.6" ry="5.5" fill="#f2c200" stroke="#7d621c" stroke-width="1.5"/>
<ellipse cx="569.1" cy="523.1" rx="3.3" ry="2.8" fill="#ffdf00"/>
<circle cx="574.4" cy="523.2" r="0.9" fill="#3aa030"/>
<circle cx="568.8" cy="527.5" r="0.9" fill="#3aa030"/>
<circle cx="563.9" cy="522.5" r="0.9" fill="#3aa030"/>
<circle cx="566.9" cy="519.1" r="0.9" fill="#3aa030"/>
<circle cx="573.6" cy="520.9" r="0.9" fill="#3aa030"/>
<path d="M611.4,524.7 Q611.9,527.2 614.5,526.0" fill="none" stroke="#4a5560" stroke-width="0.5"/>
<path d="M605.8,527.1 Q603.6,528.9 606.1,530.4" fill="none" stroke="#4a5560" stroke-width="0.5"/>
<path d="M601.3,525.3 Q598.6,525.1 599.1,527.7" fill="none" stroke="#4a5560" stroke-width="0.5"/>
<path d="M599.9,520.9 Q598.5,518.8 596.6,520.8" fill="none" stroke="#4a5560" stroke-width="0.5"/>
<path d="M603.0,517.4 Q603.8,514.9 600.9,514.8" fill="none" stroke="#4a5560" stroke-width="0.5"/>
<path d="M611.3,519.0 Q614.0,519.5 613.8,516.9" fill="none" stroke="#4a5560" stroke-width="0.5"/>
<ellipse cx="606.1" cy="521.9" rx="6.6" ry="5.5" fill="#f2c200" stroke="#7d621c" stroke-width="1.5"/>
<ellipse cx="606.1" cy="521.9" rx="3.3" ry="2.8" fill="#ffdf00"/>
<circle cx="611.0" cy="523.5" r="0.9" fill="#3aa030"/>
<circle cx="604.6" cy="526.1" r="0.9" fill="#3aa030"/>
<circle cx="601.1" cy="523.3" r="0.9" fill="#3aa030"/>
<circle cx="604.4" cy="517.7" r="0.9" fill="#3aa030"/>
<circle cx="608.8" cy="518.1" r="0.9" fill="#3aa030"/>
<path d="M655.5,517.8 Q656.9,519.9 658.9,518.1" fill="none" stroke="#4a5560" stroke-width="0.5"/>
<path d="M651.9,521.4 Q650.8,523.8 653.7,524.2" fill="none" stroke="#4a5560" stroke-width="0.5"/>
<path d="M644.2,519.5 Q641.5,519.0 641.7,521.7" fill="none" stroke="#4a5560" stroke-width="0.5"/>
<path d="M643.1,516.3 Q641.4,514.4 639.8,516.6" fill="none" stroke="#4a5560" stroke-width="0.5"/>
<path d="M648.5,511.4 Q650.3,509.3 647.5,508.3" fill="none" stroke="#4a5560" stroke-width="0.5"/>
<path d="M653.8,512.9 Q656.6,512.8 655.8,510.3" fill="none" stroke="#4a5560" stroke-width="0.5"/>
<ellipse cx="649.4" cy="516.6" rx="6.6" ry="5.5" fill="#f2c200" stroke="#7d621c" stroke-width="1.5"/>
<ellipse cx="649.4" cy="516.6" rx="3.3" ry="2.8" fill="#ffdf00"/>
<circle cx="654.7" cy="516.8" r="0.9" fill="#3aa030"/>
<circle cx="648.9" cy="521.0" r="0.9" fill="#3aa030"/>
<circle cx="645.0" cy="519.1" r="0.9" fill="#3aa030"/>
<circle cx="646.4" cy="513.0" r="0.9" fill="#3aa030"/>
<circle cx="651.3" cy="512.5" r="0.9" fill="#3aa030"/>
<polygon points="600.4,532.5 604.7,538.5 596.1,538.5" fill="#ee1c1c"/>
<polygon points="619.7,532.2 624.0,538.2 615.4,538.2" fill="#ee1c1c"/>
<path d="M548.6,447.5 C551.5,451 554.6,456 554.6,466 L554.6,540 A53.3,14.5 0 0 0 661.3,540 L661.3,446" fill="none" stroke="#3a4652" stroke-width="1.1"/>
<path d="M551.8,447.6 C554.2,452 556.6,458 556.6,466 L556.6,486" fill="none" stroke="#3a4652" stroke-width="0.6"/>
<path d="M659.3,449 L659.3,486" fill="none" stroke="#3a4652" stroke-width="0.6"/>
<path d="M541.2,441.4 C544.2,437.9 551.8,432.6 555.8,429.4 A59.4,12.0 0 1 1 560.7,443.5 C553.7,441.7 547.2,443.2 541.2,445.8 Z" fill="#fff" stroke="#3a4652" stroke-width="1.15" stroke-linejoin="round"/>
<path d="M544.4,443.4 C547.2,439.8 552.5,434.0 556.5,431.0 A56.8,10.0 0 1 1 559.1,441.4 C552.1,439.6 549.2,443.8 544.4,443.4 Z" fill="#fff" stroke="#3a4652" stroke-width="0.65" stroke-linejoin="round"/>
</g>
<polygon points="538.4,463.3 528.2,463.3 528.2,460.5 522.6,466.2 528.2,471.9 528.2,469.1 538.4,469.1" fill="#61a60e" stroke="#27395f" stroke-width="0.9"/>
<polygon points="265.0,453.0 254.3,453.0 254.3,450.4 249.5,456.0 254.3,461.6 254.3,459.0 265.0,459.0" fill="#61a60e" stroke="#27395f" stroke-width="0.9"/>
<rect x="526.9" y="557.2" width="155.1" height="21" fill="#a9d08e"/>
<text x="533.9" y="572.1" font-size="10.4" font-weight="bold" fill="#1a1a1a" textLength="141.3" lengthAdjust="spacingAndGlyphs" >Supersaturated SNEDDS (Super-SNEDDS)</text>
<polygon points="563.5,584.8 568.8,594.8 558.2,594.8" fill="#ee1c1c" stroke="#2a3f7a" stroke-width="0.9" stroke-linejoin="miter"/>
<text x="574.0" y="592.8" font-size="9.8" font-weight="bold" fill="#1a1a1a" textLength="78.3" lengthAdjust="spacingAndGlyphs" >TGL (Crystallized Drug)</text>
<path d="M657,580.4 V592.5" stroke="#f01414" stroke-width="1.2" fill="none"/><polygon points="657,597.2 659.2,591.2 654.8,591.2" fill="#f01414"/>
<rect x="7.8" y="292.8" width="238.8" height="300.4" fill="#fff" stroke="#333" stroke-width="1.2"/>
<text x="74.3" y="313.0" font-size="10.0" font-weight="normal" fill="#111" textLength="31.6" lengthAdjust="spacingAndGlyphs" stroke="#111" stroke-width="0.45">Enhanced</text>
<text x="110.0" y="313.0" font-size="10.0" font-weight="normal" font-style="italic" fill="#111" textLength="21.3" lengthAdjust="spacingAndGlyphs" stroke="#111" stroke-width="0.45">in vivo</text>
<text x="134.5" y="313.0" font-size="10.0" font-weight="normal" fill="#111" textLength="46.2" lengthAdjust="spacingAndGlyphs" stroke="#111" stroke-width="0.45">bioavailability</text>
<line x1="50.800000000000004" y1="324.6" x2="50.800000000000004" y2="556.9" stroke="#222" stroke-width="1.3"/>
<line x1="50.7" y1="556.1" x2="238.2" y2="556.1" stroke="#111" stroke-width="1.7"/>
<text x="40.8" y="560.6" font-size="10.0" font-weight="bold" fill="#111" textLength="4.0" lengthAdjust="spacingAndGlyphs" >0</text>
<text x="32.9" y="531.5" font-size="10.0" font-weight="bold" fill="#111" textLength="11.9" lengthAdjust="spacingAndGlyphs" >500</text>
<text x="28.9" y="502.5" font-size="10.0" font-weight="bold" fill="#111" textLength="15.8" lengthAdjust="spacingAndGlyphs" >1000</text>
<text x="28.9" y="473.4" font-size="10.0" font-weight="bold" fill="#111" textLength="15.8" lengthAdjust="spacingAndGlyphs" >1500</text>
<text x="28.9" y="444.4" font-size="10.0" font-weight="bold" fill="#111" textLength="15.8" lengthAdjust="spacingAndGlyphs" >2000</text>
<text x="28.9" y="415.3" font-size="10.0" font-weight="bold" fill="#111" textLength="15.8" lengthAdjust="spacingAndGlyphs" >2500</text>
<text x="28.9" y="386.3" font-size="10.0" font-weight="bold" fill="#111" textLength="15.8" lengthAdjust="spacingAndGlyphs" >3000</text>
<text x="28.9" y="357.2" font-size="10.0" font-weight="bold" fill="#111" textLength="15.8" lengthAdjust="spacingAndGlyphs" >3500</text>
<text x="28.9" y="328.2" font-size="10.0" font-weight="bold" fill="#111" textLength="15.8" lengthAdjust="spacingAndGlyphs" >4000</text>
<text x="49.1" y="572.8" font-size="10.0" font-weight="bold" fill="#111" textLength="4.1" lengthAdjust="spacingAndGlyphs" >0</text>
<text x="80.2" y="572.8" font-size="10.0" font-weight="bold" fill="#111" textLength="4.1" lengthAdjust="spacingAndGlyphs" >5</text>
<text x="109.3" y="572.8" font-size="10.0" font-weight="bold" fill="#111" textLength="8.2" lengthAdjust="spacingAndGlyphs" >10</text>
<text x="140.4" y="572.8" font-size="10.0" font-weight="bold" fill="#111" textLength="8.2" lengthAdjust="spacingAndGlyphs" >15</text>
<text x="171.5" y="572.8" font-size="10.0" font-weight="bold" fill="#111" textLength="8.2" lengthAdjust="spacingAndGlyphs" >20</text>
<text x="202.7" y="572.8" font-size="10.0" font-weight="bold" fill="#111" textLength="8.2" lengthAdjust="spacingAndGlyphs" >25</text>
<text x="233.8" y="572.8" font-size="10.0" font-weight="bold" fill="#111" textLength="8.2" lengthAdjust="spacingAndGlyphs" >30</text>
<text x="130.9" y="588.2" font-size="10.0" font-weight="bold" fill="#111" textLength="28.5" lengthAdjust="spacingAndGlyphs" >Time (h)</text>
<text transform="translate(18.2,440) rotate(-90)" text-anchor="middle" font-size="7.1" font-weight="bold" fill="#111" textLength="206" lengthAdjust="spacingAndGlyphs">TGL mean plasma concentration (ng/ml)</text>
<path d="M54.2,497.4 V511.4 M52.8,497.4 h2.8 M52.8,511.4 h2.8" stroke="#444" stroke-width="0.6" fill="none"/>
<path d="M57.3,451.3 V463.3 M55.9,451.3 h2.8 M55.9,463.3 h2.8" stroke="#444" stroke-width="0.6" fill="none"/>
<path d="M60.4,344.4 V368.4 M59.0,344.4 h2.8 M59.0,368.4 h2.8" stroke="#444" stroke-width="0.6" fill="none"/>
<path d="M63.6,393.6 V417.6 M62.2,393.6 h2.8 M62.2,417.6 h2.8" stroke="#444" stroke-width="0.6" fill="none"/>
<path d="M69.8,432.9 V446.9 M68.4,432.9 h2.8 M68.4,446.9 h2.8" stroke="#444" stroke-width="0.6" fill="none"/>
<path d="M88.5,518.6 V528.6 M87.1,518.6 h2.8 M87.1,528.6 h2.8" stroke="#444" stroke-width="0.6" fill="none"/>
<path d="M100.9,531.9 V541.9 M99.5,531.9 h2.8 M99.5,541.9 h2.8" stroke="#444" stroke-width="0.6" fill="none"/>
<path d="M200.5,544.7 V554.7 M199.1,544.7 h2.8 M199.1,554.7 h2.8" stroke="#444" stroke-width="0.6" fill="none"/>
<path d="M51.1,556.1 C52.7,530.2 52.6,530.2 54.2,504.4 C55.7,480.9 56.3,480.9 57.3,457.3 C59.4,406.9 58.3,373.8 60.4,356.4 C61.5,347.9 60.8,381.2 63.6,405.6 C65.5,422.9 66.2,422.9 69.8,439.9 C78.6,481.8 75.6,483.6 88.5,523.6 C91.2,532.1 92.3,534.9 100.9,536.9 C148.3,548.0 150.7,543.3 200.5,549.7" fill="none" stroke="#4472c4" stroke-width="1.3" stroke-linejoin="round"/>
<circle cx="51.1" cy="556.1" r="2.35" fill="#4472c4"/>
<circle cx="54.2" cy="504.4" r="2.35" fill="#4472c4"/>
<circle cx="57.3" cy="457.3" r="2.35" fill="#4472c4"/>
<circle cx="60.4" cy="356.4" r="2.35" fill="#4472c4"/>
<circle cx="63.6" cy="405.6" r="2.35" fill="#4472c4"/>
<circle cx="69.8" cy="439.9" r="2.35" fill="#4472c4"/>
<circle cx="88.5" cy="523.6" r="2.35" fill="#4472c4"/>
<circle cx="100.9" cy="536.9" r="2.35" fill="#4472c4"/>
<circle cx="200.5" cy="549.7" r="2.35" fill="#4472c4"/>
<path d="M54.2,551.2 V555.2 M52.8,551.2 h2.8 M52.8,555.2 h2.8" stroke="#444" stroke-width="0.6" fill="none"/>
<path d="M57.3,547.9 V553.9 M55.9,547.9 h2.8 M55.9,553.9 h2.8" stroke="#444" stroke-width="0.6" fill="none"/>
<path d="M60.4,535.4 V545.4 M59.0,535.4 h2.8 M59.0,545.4 h2.8" stroke="#444" stroke-width="0.6" fill="none"/>
<path d="M63.6,526.1 V536.1 M62.2,526.1 h2.8 M62.2,536.1 h2.8" stroke="#444" stroke-width="0.6" fill="none"/>
<path d="M69.8,537.6 V545.6 M68.4,537.6 h2.8 M68.4,545.6 h2.8" stroke="#444" stroke-width="0.6" fill="none"/>
<path d="M88.5,546.3 V554.3 M87.1,546.3 h2.8 M87.1,554.3 h2.8" stroke="#444" stroke-width="0.6" fill="none"/>
<path d="M100.9,548.6 V556.6 M99.5,548.6 h2.8 M99.5,556.6 h2.8" stroke="#444" stroke-width="0.6" fill="none"/>
<path d="M200.5,551.9 V557.9 M199.1,551.9 h2.8 M199.1,557.9 h2.8" stroke="#444" stroke-width="0.6" fill="none"/>
<path d="M51.1,556.1 C52.7,554.6 52.6,554.6 54.2,553.2 C55.7,551.9 56.5,552.5 57.3,550.9 C59.6,546.2 58.8,545.6 60.4,540.4 C61.9,535.7 61.5,530.9 63.6,531.1 C66.1,531.4 65.2,538.0 69.8,541.6 C77.6,547.6 78.8,546.9 88.5,550.3 C94.4,552.4 94.6,552.4 100.9,552.6 C150.6,554.7 150.7,553.8 200.5,554.9" fill="none" stroke="#ed7d31" stroke-width="1.3" stroke-linejoin="round"/>
<circle cx="51.1" cy="556.1" r="2.35" fill="#ed7d31"/>
<circle cx="54.2" cy="553.2" r="2.35" fill="#ed7d31"/>
<circle cx="57.3" cy="550.9" r="2.35" fill="#ed7d31"/>
<circle cx="60.4" cy="540.4" r="2.35" fill="#ed7d31"/>
<circle cx="63.6" cy="531.1" r="2.35" fill="#ed7d31"/>
<circle cx="69.8" cy="541.6" r="2.35" fill="#ed7d31"/>
<circle cx="88.5" cy="550.3" r="2.35" fill="#ed7d31"/>
<circle cx="100.9" cy="552.6" r="2.35" fill="#ed7d31"/>
<circle cx="200.5" cy="554.9" r="2.35" fill="#ed7d31"/>
<path d="M54.2,526.5 V534.5 M52.8,526.5 h2.8 M52.8,534.5 h2.8" stroke="#444" stroke-width="0.6" fill="none"/>
<path d="M57.3,501.9 V513.9 M55.9,501.9 h2.8 M55.9,513.9 h2.8" stroke="#444" stroke-width="0.6" fill="none"/>
<path d="M60.4,452.3 V462.3 M59.0,452.3 h2.8 M59.0,462.3 h2.8" stroke="#444" stroke-width="0.6" fill="none"/>
<path d="M63.6,483.4 V497.4 M62.2,483.4 h2.8 M62.2,497.4 h2.8" stroke="#444" stroke-width="0.6" fill="none"/>
<path d="M69.8,493.9 V507.9 M68.4,493.9 h2.8 M68.4,507.9 h2.8" stroke="#444" stroke-width="0.6" fill="none"/>
<path d="M88.5,535.4 V545.4 M87.1,535.4 h2.8 M87.1,545.4 h2.8" stroke="#444" stroke-width="0.6" fill="none"/>
<path d="M100.9,544.0 V552.0 M99.5,544.0 h2.8 M99.5,552.0 h2.8" stroke="#444" stroke-width="0.6" fill="none"/>
<path d="M200.5,550.8 V556.8 M199.1,550.8 h2.8 M199.1,556.8 h2.8" stroke="#444" stroke-width="0.6" fill="none"/>
<path d="M51.1,556.1 C52.7,543.3 52.6,543.3 54.2,530.5 C55.7,519.2 56.4,519.3 57.3,507.9 C59.5,482.7 58.6,462.6 60.4,457.3 C61.7,453.9 60.1,474.5 63.6,490.4 C64.8,496.3 67.1,495.5 69.8,500.9 C79.5,520.4 76.8,522.8 88.5,540.4 C92.4,546.3 93.8,547.1 100.9,548.0 C149.8,553.8 150.7,550.9 200.5,553.8" fill="none" stroke="#a5a5a5" stroke-width="1.3" stroke-linejoin="round"/>
<circle cx="51.1" cy="556.1" r="2.35" fill="#a5a5a5"/>
<circle cx="54.2" cy="530.5" r="2.35" fill="#a5a5a5"/>
<circle cx="57.3" cy="507.9" r="2.35" fill="#a5a5a5"/>
<circle cx="60.4" cy="457.3" r="2.35" fill="#a5a5a5"/>
<circle cx="63.6" cy="490.4" r="2.35" fill="#a5a5a5"/>
<circle cx="69.8" cy="500.9" r="2.35" fill="#a5a5a5"/>
<circle cx="88.5" cy="540.4" r="2.35" fill="#a5a5a5"/>
<circle cx="100.9" cy="548.0" r="2.35" fill="#a5a5a5"/>
<circle cx="200.5" cy="553.8" r="2.35" fill="#a5a5a5"/>
<line x1="148.1" y1="354.6" x2="163.2" y2="354.6" stroke="#4472c4" stroke-width="1.6"/><circle cx="155.2" cy="354.6" r="2.5" fill="#4472c4"/>
<text x="163.8" y="358.2" font-size="10.0" font-weight="bold" fill="#111" textLength="68.1" lengthAdjust="spacingAndGlyphs" >TGL Super-SNEDDS</text>
<line x1="148.1" y1="371.5" x2="163.2" y2="371.5" stroke="#ed7d31" stroke-width="1.6"/><circle cx="155.2" cy="371.5" r="2.5" fill="#ed7d31"/>
<text x="163.8" y="375.0" font-size="10.0" font-weight="bold" fill="#111" textLength="56.1" lengthAdjust="spacingAndGlyphs" >TGL suspension</text>
<line x1="148.1" y1="388.3" x2="163.2" y2="388.3" stroke="#a5a5a5" stroke-width="1.6"/><circle cx="155.2" cy="388.3" r="2.5" fill="#a5a5a5"/>
<text x="163.8" y="391.9" font-size="10.0" font-weight="bold" fill="#111" textLength="45.7" lengthAdjust="spacingAndGlyphs" >TGL SNEDDS</text>
<rect x="268.8" y="293.4" width="247.7" height="301.2" fill="#fff" stroke="#333" stroke-width="1.2"/>
<text x="312.9" y="309.4" font-size="10.0" font-weight="normal" fill="#111" textLength="32.8" lengthAdjust="spacingAndGlyphs" stroke="#111" stroke-width="0.45">Enhanced</text>
<text x="348.3" y="309.4" font-size="10.0" font-weight="normal" font-style="italic" fill="#111" textLength="25.5" lengthAdjust="spacingAndGlyphs" stroke="#111" stroke-width="0.45">In Vitro</text>
<text x="376.4" y="309.4" font-size="10.0" font-weight="normal" fill="#111" textLength="103.3" lengthAdjust="spacingAndGlyphs" stroke="#111" stroke-width="0.45">Dissolution of TGL from Super-</text>
<text x="322.7" y="321.9" font-size="10.0" font-weight="normal" fill="#111" textLength="147.0" lengthAdjust="spacingAndGlyphs" stroke="#111" stroke-width="0.45">SNEDDS vs. API and Marketed Formulation</text>
<rect x="303.7" y="333.4" width="203.2" height="158.5" fill="#fff" stroke="#6a6a6a" stroke-width="0.8"/>
<line x1="303.7" y1="333.2" x2="303.7" y2="492.4" stroke="#111" stroke-width="1.0"/>
<text x="293.2" y="495.5" font-size="10.0" font-weight="bold" fill="#111" textLength="4.0" lengthAdjust="spacingAndGlyphs" >0</text>
<text x="289.2" y="469.1" font-size="10.0" font-weight="bold" fill="#111" textLength="8.0" lengthAdjust="spacingAndGlyphs" >20</text>
<text x="289.2" y="442.7" font-size="10.0" font-weight="bold" fill="#111" textLength="8.0" lengthAdjust="spacingAndGlyphs" >40</text>
<text x="289.2" y="416.2" font-size="10.0" font-weight="bold" fill="#111" textLength="8.0" lengthAdjust="spacingAndGlyphs" >60</text>
<text x="289.2" y="389.8" font-size="10.0" font-weight="bold" fill="#111" textLength="8.0" lengthAdjust="spacingAndGlyphs" >80</text>
<text x="285.2" y="363.4" font-size="10.0" font-weight="bold" fill="#111" textLength="12.0" lengthAdjust="spacingAndGlyphs" >100</text>
<text x="285.2" y="337.0" font-size="10.0" font-weight="bold" fill="#111" textLength="12.0" lengthAdjust="spacingAndGlyphs" >120</text>
<text x="301.6" y="508.2" font-size="10.0" font-weight="bold" fill="#111" textLength="4.2" lengthAdjust="spacingAndGlyphs" >0</text>
<text x="367.1" y="508.2" font-size="10.0" font-weight="bold" fill="#111" textLength="8.4" lengthAdjust="spacingAndGlyphs" >50</text>
<text x="432.5" y="508.2" font-size="10.0" font-weight="bold" fill="#111" textLength="12.6" lengthAdjust="spacingAndGlyphs" >100</text>
<text x="500.1" y="508.2" font-size="10.0" font-weight="bold" fill="#111" textLength="12.6" lengthAdjust="spacingAndGlyphs" >150</text>
<text x="387.2" y="524.4" font-size="10.0" font-weight="bold" fill="#111" textLength="36.0" lengthAdjust="spacingAndGlyphs" >Time (min)</text>
<text transform="translate(282.4,410.8) rotate(-90)" text-anchor="middle" font-size="7.1" font-weight="bold" fill="#111" textLength="148" lengthAdjust="spacingAndGlyphs">Cumulative Drug Release (%)</text>
<path d="M317.2,482.4 V484.8 M315.8,482.4 h2.8 M315.8,484.8 h2.8" stroke="#444" stroke-width="0.6" fill="none"/>
<path d="M303.7,491.9 C307.1,488.6 306.6,487.7 310.5,485.3 C313.3,483.5 313.8,484.4 317.2,483.6 C320.6,482.8 320.5,482.4 324.0,482.1 C334.0,481.3 334.1,481.7 344.2,481.5 C354.4,481.3 354.4,481.4 364.5,481.3 C374.6,481.2 374.6,481.2 384.8,481.1 C405.0,480.9 405.0,480.9 425.3,480.8 C445.6,480.7 445.6,480.7 465.8,480.7" fill="none" stroke="#4472c4" stroke-width="1.3" stroke-linejoin="round"/>
<circle cx="303.7" cy="491.9" r="2.3" fill="#4472c4"/>
<circle cx="310.5" cy="485.3" r="2.3" fill="#4472c4"/>
<circle cx="317.2" cy="483.6" r="2.3" fill="#4472c4"/>
<circle cx="324.0" cy="482.1" r="2.3" fill="#4472c4"/>
<circle cx="344.2" cy="481.5" r="2.3" fill="#4472c4"/>
<circle cx="364.5" cy="481.3" r="2.3" fill="#4472c4"/>
<circle cx="384.8" cy="481.1" r="2.3" fill="#4472c4"/>
<circle cx="425.3" cy="480.8" r="2.3" fill="#4472c4"/>
<circle cx="465.8" cy="480.7" r="2.3" fill="#4472c4"/>
<path d="M310.5,486.4 V489.4 M309.1,486.4 h2.8 M309.1,489.4 h2.8" stroke="#444" stroke-width="0.6" fill="none"/>
<path d="M317.2,477.8 V484.8 M315.8,477.8 h2.8 M315.8,484.8 h2.8" stroke="#444" stroke-width="0.6" fill="none"/>
<path d="M324.0,465.5 V471.9 M322.6,465.5 h2.8 M322.6,471.9 h2.8" stroke="#444" stroke-width="0.6" fill="none"/>
<path d="M384.8,446.6 V451.8 M383.4,446.6 h2.8 M383.4,451.8 h2.8" stroke="#444" stroke-width="0.6" fill="none"/>
<path d="M465.8,443.9 V448.3 M464.4,443.9 h2.8 M464.4,448.3 h2.8" stroke="#444" stroke-width="0.6" fill="none"/>
<path d="M303.7,491.9 C307.1,489.9 307.4,490.3 310.5,487.9 C314.1,485.1 314.5,485.2 317.2,481.3 C321.3,475.5 318.5,472.4 324.0,468.7 C332.0,463.2 335.6,468.4 344.2,462.8 C355.9,455.4 352.9,446.5 364.5,442.6 C373.1,439.7 374.3,448.0 384.8,449.2 C404.7,451.7 405.1,450.8 425.3,450.0 C445.6,449.2 445.6,448.1 465.8,446.1" fill="none" stroke="#ed7d31" stroke-width="1.3" stroke-linejoin="round"/>
<circle cx="303.7" cy="491.9" r="2.3" fill="#ed7d31"/>
<circle cx="310.5" cy="487.9" r="2.3" fill="#ed7d31"/>
<circle cx="317.2" cy="481.3" r="2.3" fill="#ed7d31"/>
<circle cx="324.0" cy="468.7" r="2.3" fill="#ed7d31"/>
<circle cx="344.2" cy="462.8" r="2.3" fill="#ed7d31"/>
<circle cx="364.5" cy="442.6" r="2.3" fill="#ed7d31"/>
<circle cx="384.8" cy="449.2" r="2.3" fill="#ed7d31"/>
<circle cx="425.3" cy="450.0" r="2.3" fill="#ed7d31"/>
<circle cx="465.8" cy="446.1" r="2.3" fill="#ed7d31"/>
<path d="M310.5,394.1 V398.1 M309.1,394.1 h2.8 M309.1,398.1 h2.8" stroke="#a5a5a5" stroke-width="0.6" fill="none"/>
<path d="M317.2,386.7 V390.7 M315.8,386.7 h2.8 M315.8,390.7 h2.8" stroke="#a5a5a5" stroke-width="0.6" fill="none"/>
<path d="M324.0,378.5 V382.5 M322.6,378.5 h2.8 M322.6,382.5 h2.8" stroke="#a5a5a5" stroke-width="0.6" fill="none"/>
<path d="M344.2,368.8 V372.8 M342.8,368.8 h2.8 M342.8,372.8 h2.8" stroke="#a5a5a5" stroke-width="0.6" fill="none"/>
<path d="M364.5,366.0 V370.0 M363.1,366.0 h2.8 M363.1,370.0 h2.8" stroke="#a5a5a5" stroke-width="0.6" fill="none"/>
<path d="M384.8,364.4 V368.4 M383.4,364.4 h2.8 M383.4,368.4 h2.8" stroke="#a5a5a5" stroke-width="0.6" fill="none"/>
<path d="M425.3,362.9 V366.9 M423.9,362.9 h2.8 M423.9,366.9 h2.8" stroke="#a5a5a5" stroke-width="0.6" fill="none"/>
<path d="M465.8,360.3 V364.3 M464.4,360.3 h2.8 M464.4,364.3 h2.8" stroke="#a5a5a5" stroke-width="0.6" fill="none"/>
<path d="M303.7,491.9 C307.1,444.0 304.3,442.8 310.5,396.1 C311.1,391.2 313.9,392.5 317.2,388.7 C320.7,384.7 319.6,383.4 324.0,380.5 C333.1,374.5 333.6,374.1 344.2,370.8 C353.9,367.9 354.3,369.1 364.5,368.0 C374.6,366.9 374.6,366.9 384.8,366.4 C405.0,365.4 405.0,366.0 425.3,364.9 C445.6,363.9 445.6,363.6 465.8,362.3" fill="none" stroke="#a5a5a5" stroke-width="1.4" stroke-linejoin="round"/>
<rect x="302.0" y="489.5" width="3.4" height="4.8" fill="#a5a5a5"/>
<rect x="308.8" y="393.7" width="3.4" height="4.8" fill="#a5a5a5"/>
<rect x="315.5" y="386.3" width="3.4" height="4.8" fill="#a5a5a5"/>
<rect x="322.3" y="378.1" width="3.4" height="4.8" fill="#a5a5a5"/>
<rect x="342.5" y="368.4" width="3.4" height="4.8" fill="#a5a5a5"/>
<rect x="362.8" y="365.6" width="3.4" height="4.8" fill="#a5a5a5"/>
<rect x="383.1" y="364.0" width="3.4" height="4.8" fill="#a5a5a5"/>
<rect x="423.6" y="362.5" width="3.4" height="4.8" fill="#a5a5a5"/>
<rect x="464.1" y="359.9" width="3.4" height="4.8" fill="#a5a5a5"/>
<path d="M310.5,396.4 V401.4 M309.1,396.4 h2.8 M309.1,401.4 h2.8" stroke="#ffc000" stroke-width="0.6" fill="none"/>
<path d="M317.2,388.8 V393.8 M315.8,388.8 h2.8 M315.8,393.8 h2.8" stroke="#ffc000" stroke-width="0.6" fill="none"/>
<path d="M324.0,379.8 V384.8 M322.6,379.8 h2.8 M322.6,384.8 h2.8" stroke="#ffc000" stroke-width="0.6" fill="none"/>
<path d="M344.2,370.2 V375.2 M342.8,370.2 h2.8 M342.8,375.2 h2.8" stroke="#ffc000" stroke-width="0.6" fill="none"/>
<path d="M364.5,367.4 V372.4 M363.1,367.4 h2.8 M363.1,372.4 h2.8" stroke="#ffc000" stroke-width="0.6" fill="none"/>
<path d="M384.8,365.0 V370.0 M383.4,365.0 h2.8 M383.4,370.0 h2.8" stroke="#ffc000" stroke-width="0.6" fill="none"/>
<path d="M425.3,363.7 V368.7 M423.9,363.7 h2.8 M423.9,368.7 h2.8" stroke="#ffc000" stroke-width="0.6" fill="none"/>
<path d="M465.8,361.0 V366.0 M464.4,361.0 h2.8 M464.4,366.0 h2.8" stroke="#ffc000" stroke-width="0.6" fill="none"/>
<path d="M303.7,491.9 C307.1,445.4 304.4,444.3 310.5,398.9 C311.1,394.0 314.0,395.2 317.2,391.3 C320.7,386.9 319.5,385.4 324.0,382.3 C333.0,376.1 333.6,375.9 344.2,372.7 C353.9,369.7 354.4,371.2 364.5,369.9 C374.6,368.6 374.6,368.1 384.8,367.5 C405.0,366.3 405.0,367.2 425.3,366.2 C445.6,365.2 445.6,364.9 465.8,363.5" fill="none" stroke="#ffc000" stroke-width="1.4" stroke-linejoin="round"/>
<rect x="302.0" y="489.5" width="3.4" height="4.8" fill="#ffc000"/>
<rect x="308.8" y="396.5" width="3.4" height="4.8" fill="#ffc000"/>
<rect x="315.5" y="388.9" width="3.4" height="4.8" fill="#ffc000"/>
<rect x="322.3" y="379.9" width="3.4" height="4.8" fill="#ffc000"/>
<rect x="342.5" y="370.3" width="3.4" height="4.8" fill="#ffc000"/>
<rect x="362.8" y="367.5" width="3.4" height="4.8" fill="#ffc000"/>
<rect x="383.1" y="365.1" width="3.4" height="4.8" fill="#ffc000"/>
<rect x="423.6" y="363.8" width="3.4" height="4.8" fill="#ffc000"/>
<rect x="464.1" y="361.1" width="3.4" height="4.8" fill="#ffc000"/>
<circle cx="303.7" cy="491.9" r="2.3" fill="#ffc000"/>
<rect x="302.5" y="475.8" width="2.4" height="6.6" rx="1" fill="#111"/>
<text x="301.2" y="385.7" font-size="10.2" font-weight="bold" fill="#111" textLength="17.2" lengthAdjust="spacingAndGlyphs" >72.58</text>
<text x="308.2" y="379.1" font-size="10.2" font-weight="bold" fill="#111" textLength="17.2" lengthAdjust="spacingAndGlyphs" >78.13</text>
<text x="315.2" y="371.3" font-size="10.2" font-weight="bold" fill="#111" textLength="17.2" lengthAdjust="spacingAndGlyphs" >84.34</text>
<text x="335.3" y="360.3" font-size="10.2" font-weight="bold" fill="#111" textLength="17.2" lengthAdjust="spacingAndGlyphs" >91.67</text>
<text x="355.8" y="358.3" font-size="10.2" font-weight="bold" fill="#111" textLength="17.2" lengthAdjust="spacingAndGlyphs" >93.82</text>
<text x="376.0" y="357.6" font-size="10.2" font-weight="bold" fill="#111" textLength="17.2" lengthAdjust="spacingAndGlyphs" >95.02</text>
<text x="416.6" y="355.2" font-size="10.2" font-weight="bold" fill="#111" textLength="17.2" lengthAdjust="spacingAndGlyphs" >96.14</text>
<text x="457.6" y="352.5" font-size="10.2" font-weight="bold" fill="#111" textLength="17.2" lengthAdjust="spacingAndGlyphs" >98.11</text>
<line x1="278.8" y1="532.2" x2="294" y2="532.2" stroke="#4472c4" stroke-width="1.6"/><polygon points="286,529.6 288.3,532.2 286,534.8 283.7,532.2" fill="#4472c4"/>
<text x="294.7" y="535.7" font-size="9.8" font-weight="bold" fill="#111" textLength="31.3" lengthAdjust="spacingAndGlyphs" >API (TGL)</text>
<line x1="278.8" y1="549.4" x2="294" y2="549.4" stroke="#ed7d31" stroke-width="1.6"/><polygon points="286,546.8 288.3,549.4 286,552.0 283.7,549.4" fill="#ed7d31"/>
<text x="294.7" y="552.9" font-size="9.8" font-weight="bold" fill="#111" textLength="70.8" lengthAdjust="spacingAndGlyphs" >Marketed formulation</text>
<line x1="278.8" y1="566.5" x2="294" y2="566.5" stroke="#a5a5a5" stroke-width="1.6"/><polygon points="286,563.9 288.3,566.5 286,569.1 283.7,566.5" fill="#a5a5a5"/>
<text x="294.7" y="570.0" font-size="9.8" font-weight="bold" fill="#111" textLength="165.6" lengthAdjust="spacingAndGlyphs" >%CDR in pH 1.2 HCl (TGL loaded Super-SNEDDS)</text>
<line x1="278.8" y1="583.7" x2="294" y2="583.7" stroke="#ffc000" stroke-width="1.6"/><polygon points="286,581.1 288.3,583.7 286,586.3 283.7,583.7" fill="#ffc000"/>
<text x="294.7" y="587.2" font-size="9.8" font-weight="bold" fill="#111" textLength="210.8" lengthAdjust="spacingAndGlyphs" >%CDR in pH 6.8 phosphate buffer (TGL loaded Super-SNEDDS)</text>
</svg>
</body></html>
